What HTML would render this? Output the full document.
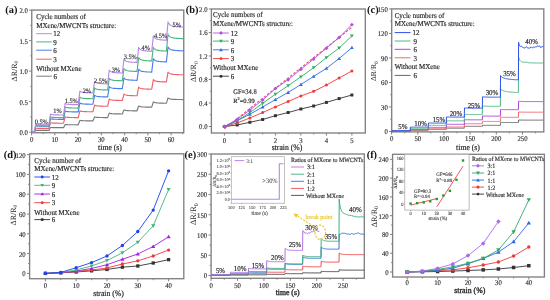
<!DOCTYPE html><html><head><meta charset="utf-8"><style>html,body{margin:0;padding:0;background:#fff;overflow:hidden;}svg{display:block;filter:blur(0.3px);}text{font-family:"Liberation Serif",serif;text-rendering:geometricPrecision;}</style></head><body><svg width="550" height="300" viewBox="0 0 550 300" font-family="Liberation Serif">
<rect width="550" height="300" fill="#fff"/>
<rect x="31.75" y="10.1" width="152" height="122.65" fill="none" stroke="#808080" stroke-width="1.35"/>
<line x1="31.6" y1="132.75" x2="31.6" y2="135.35" stroke="#808080" stroke-width="1" />
<line x1="54.85" y1="132.75" x2="54.85" y2="135.35" stroke="#808080" stroke-width="1" />
<line x1="78.1" y1="132.75" x2="78.1" y2="135.35" stroke="#808080" stroke-width="1" />
<line x1="101.35" y1="132.75" x2="101.35" y2="135.35" stroke="#808080" stroke-width="1" />
<line x1="124.6" y1="132.75" x2="124.6" y2="135.35" stroke="#808080" stroke-width="1" />
<line x1="147.85" y1="132.75" x2="147.85" y2="135.35" stroke="#808080" stroke-width="1" />
<line x1="171.1" y1="132.75" x2="171.1" y2="135.35" stroke="#808080" stroke-width="1" />
<line x1="43.23" y1="132.75" x2="43.23" y2="134.25" stroke="#808080" stroke-width="0.9" />
<line x1="66.47" y1="132.75" x2="66.47" y2="134.25" stroke="#808080" stroke-width="0.9" />
<line x1="89.73" y1="132.75" x2="89.73" y2="134.25" stroke="#808080" stroke-width="0.9" />
<line x1="112.97" y1="132.75" x2="112.97" y2="134.25" stroke="#808080" stroke-width="0.9" />
<line x1="136.23" y1="132.75" x2="136.23" y2="134.25" stroke="#808080" stroke-width="0.9" />
<line x1="159.48" y1="132.75" x2="159.48" y2="134.25" stroke="#808080" stroke-width="0.9" />
<line x1="182.72" y1="132.75" x2="182.72" y2="134.25" stroke="#808080" stroke-width="0.9" />
<line x1="31.75" y1="132.2" x2="29.15" y2="132.2" stroke="#808080" stroke-width="1" />
<line x1="31.75" y1="101.67" x2="29.15" y2="101.67" stroke="#808080" stroke-width="1" />
<line x1="31.75" y1="71.15" x2="29.15" y2="71.15" stroke="#808080" stroke-width="1" />
<line x1="31.75" y1="40.62" x2="29.15" y2="40.62" stroke="#808080" stroke-width="1" />
<line x1="31.75" y1="10.1" x2="29.15" y2="10.1" stroke="#808080" stroke-width="1" />
<line x1="31.75" y1="116.94" x2="30.25" y2="116.94" stroke="#808080" stroke-width="0.9" />
<line x1="31.75" y1="86.41" x2="30.25" y2="86.41" stroke="#808080" stroke-width="0.9" />
<line x1="31.75" y1="55.89" x2="30.25" y2="55.89" stroke="#808080" stroke-width="0.9" />
<line x1="31.75" y1="25.36" x2="30.25" y2="25.36" stroke="#808080" stroke-width="0.9" />
<text transform="translate(31.6,142.25) scale(0.93,1)" font-size="7.24" text-anchor="middle" fill="#2a2a2a" stroke="#2a2a2a" stroke-width="0.14" >0</text>
<text transform="translate(54.85,142.25) scale(0.93,1)" font-size="7.24" text-anchor="middle" fill="#2a2a2a" stroke="#2a2a2a" stroke-width="0.14" >10</text>
<text transform="translate(78.1,142.25) scale(0.93,1)" font-size="7.24" text-anchor="middle" fill="#2a2a2a" stroke="#2a2a2a" stroke-width="0.14" >20</text>
<text transform="translate(101.35,142.25) scale(0.93,1)" font-size="7.24" text-anchor="middle" fill="#2a2a2a" stroke="#2a2a2a" stroke-width="0.14" >30</text>
<text transform="translate(124.6,142.25) scale(0.93,1)" font-size="7.24" text-anchor="middle" fill="#2a2a2a" stroke="#2a2a2a" stroke-width="0.14" >40</text>
<text transform="translate(147.85,142.25) scale(0.93,1)" font-size="7.24" text-anchor="middle" fill="#2a2a2a" stroke="#2a2a2a" stroke-width="0.14" >50</text>
<text transform="translate(171.1,142.25) scale(0.93,1)" font-size="7.24" text-anchor="middle" fill="#2a2a2a" stroke="#2a2a2a" stroke-width="0.14" >60</text>
<text transform="translate(27.85,135.1) scale(0.93,1)" font-size="7.24" text-anchor="end" fill="#2a2a2a" stroke="#2a2a2a" stroke-width="0.14" >0.0</text>
<text transform="translate(27.85,104.57) scale(0.93,1)" font-size="7.24" text-anchor="end" fill="#2a2a2a" stroke="#2a2a2a" stroke-width="0.14" >0.5</text>
<text transform="translate(27.85,74.05) scale(0.93,1)" font-size="7.24" text-anchor="end" fill="#2a2a2a" stroke="#2a2a2a" stroke-width="0.14" >1.0</text>
<text transform="translate(27.85,43.52) scale(0.93,1)" font-size="7.24" text-anchor="end" fill="#2a2a2a" stroke="#2a2a2a" stroke-width="0.14" >1.5</text>
<text transform="translate(27.85,13) scale(0.93,1)" font-size="7.24" text-anchor="end" fill="#2a2a2a" stroke="#2a2a2a" stroke-width="0.14" >2.0</text>
<text transform="translate(16.7,71) rotate(-90)" font-size="8.0" text-anchor="middle" fill="#2a2a2a">ΔR/R<tspan font-size="5.6" dy="1.76">0</tspan></text>
<text transform="translate(110,149.8) scale(0.93,1)" font-size="8.32" text-anchor="middle" fill="#2a2a2a" stroke="#2a2a2a" stroke-width="0.22" >time (s)</text>
<text x="5.3" y="13.1" font-size="10.4" text-anchor="start" fill="#111" font-weight="bold" >(a)</text>
<polyline points="31.6,131.96 32.76,131.96 33.93,131.96 34.16,131.96 35.09,131.05 35.79,130.37 35.83,130.37 35.88,130.37 35.97,130.37 36.11,130.38 36.25,130.38 36.48,130.39 36.72,130.39 37.09,130.4 37.41,130.4 37.65,130.41 38.39,130.42 38.58,130.42 39.51,130.42 39.74,130.42 40.9,130.43 42.06,130.43 43.23,130.44 44.39,130.44 45.55,130.44 46.71,130.44 47.88,130.44 48.85,130.44 49.04,130.1 50.2,127.96 50.48,127.45 50.53,127.45 50.57,127.45 50.67,127.46 50.8,127.48 50.94,127.49 51.18,127.5 51.36,127.52 51.41,127.52 51.78,127.54 52.34,127.56 52.53,127.57 53.08,127.58 53.69,127.6 54.2,127.6 54.85,127.61 55.59,127.62 56.01,127.62 57.18,127.63 58.34,127.64 59.5,127.64 60.66,127.65 61.83,127.65 62.99,127.65 63.54,127.65 64.15,126.47 65.17,124.46 65.22,124.47 65.27,124.48 65.31,124.48 65.36,124.49 65.5,124.51 65.64,124.53 65.87,124.56 66.1,124.58 66.47,124.62 67.03,124.65 67.64,124.68 67.78,124.69 68.8,124.72 68.89,124.72 69.96,124.75 70.29,124.75 71.12,124.76 72.29,124.77 73.45,124.78 74.61,124.79 75.78,124.8 76.94,124.8 78.1,124.81 78.24,124.81 79.26,122 79.87,120.33 79.91,120.35 79.96,120.36 80.05,120.38 80.19,120.41 80.33,120.44 80.43,120.46 80.56,120.49 80.8,120.52 81.17,120.57 81.59,120.62 81.73,120.63 82.47,120.69 82.75,120.7 83.59,120.74 83.91,120.75 84.98,120.78 85.08,120.78 86.24,120.81 87.4,120.82 88.56,120.84 89.73,120.85 90.89,120.86 92.05,120.86 92.93,120.87 93.21,120.19 94.38,117.36 94.56,116.91 94.61,116.92 94.65,116.94 94.75,116.97 94.89,117.01 95.03,117.04 95.26,117.1 95.49,117.15 95.54,117.16 95.86,117.21 96.42,117.29 96.7,117.32 97.16,117.36 97.86,117.41 98.28,117.43 99.03,117.46 99.68,117.48 100.19,117.5 101.35,117.53 102.51,117.55 103.68,117.56 104.84,117.57 106,117.58 107.16,117.59 107.63,117.6 108.33,115.67 109.25,113.1 109.3,113.12 109.35,113.14 109.44,113.17 109.49,113.19 109.58,113.22 109.72,113.27 109.95,113.34 110.19,113.4 110.56,113.48 110.65,113.5 111.12,113.58 111.81,113.66 111.86,113.67 112.97,113.75 114.14,113.81 114.37,113.82 115.3,113.85 116.46,113.88 117.62,113.9 118.79,113.92 119.95,113.94 121.11,113.95 122.28,113.96 122.32,113.96 123.44,111.15 123.95,109.86 124,109.88 124.04,109.9 124.13,109.95 124.27,110.01 124.41,110.06 124.6,110.13 124.65,110.14 124.88,110.22 125.25,110.31 125.76,110.41 125.81,110.42 126.55,110.53 126.93,110.57 127.67,110.63 128.09,110.66 129.06,110.71 129.25,110.72 130.41,110.76 131.58,110.79 132.74,110.81 133.9,110.83 135.06,110.85 136.23,110.86 137.01,110.87 137.39,109.76 138.55,106.26 138.64,105.99 138.69,106.01 138.74,106.04 138.83,106.09 138.97,106.16 139.11,106.22 139.34,106.32 139.57,106.4 139.71,106.45 139.95,106.52 140.5,106.65 140.88,106.71 141.25,106.77 142.04,106.86 142.36,106.89 143.2,106.95 143.76,106.98 144.36,107.01 145.53,107.06 146.69,107.09 147.85,107.12 149.01,107.14 150.18,107.15 151.34,107.17 151.71,107.17 152.5,104.6 153.34,101.86 153.38,101.89 153.43,101.92 153.52,101.98 153.66,102.06 153.8,102.14 154.03,102.25 154.27,102.34 154.64,102.47 154.83,102.53 155.2,102.63 155.94,102.77 155.99,102.78 157.06,102.91 157.15,102.92 158.31,103.01 158.45,103.01 159.48,103.07 160.64,103.11 161.8,103.15 162.96,103.18 164.12,103.2 165.29,103.22 166.4,103.23 166.45,103.09 167.61,99.34 168.03,97.99 168.08,98.02 168.12,98.06 168.22,98.12 168.36,98.21 168.5,98.3 168.73,98.42 168.78,98.45 168.96,98.53 169.33,98.68 169.89,98.85 169.94,98.86 170.63,99.01 171.1,99.09 171.75,99.17 172.26,99.22 173.15,99.29 173.43,99.31 174.59,99.37 175.75,99.42 176.91,99.45 178.08,99.48 179.24,99.51 180.4,99.53 181.56,99.54 182.72,99.56 183.89,99.57" fill="none" stroke="#7a7a7a" stroke-width="1.15" stroke-linejoin="round" />
<polyline points="31.6,131.96 32.76,131.96 33.93,131.96 34.16,131.96 35.09,129.81 35.79,128.21 35.83,128.21 35.88,128.22 35.97,128.22 36.11,128.23 36.25,128.24 36.48,128.26 36.72,128.27 37.09,128.29 37.41,128.3 37.65,128.3 38.39,128.32 38.58,128.33 39.51,128.34 39.74,128.34 40.9,128.35 42.06,128.36 43.23,128.37 44.39,128.37 45.55,128.37 46.71,128.38 47.88,128.38 48.85,128.38 49.04,127.74 50.2,123.77 50.48,122.81 50.53,122.82 50.57,122.83 50.67,122.85 50.8,122.87 50.94,122.9 51.18,122.93 51.36,122.95 51.41,122.96 51.78,123 52.34,123.04 52.53,123.06 53.08,123.09 53.69,123.11 54.2,123.13 54.85,123.15 55.59,123.16 56.01,123.17 57.18,123.19 58.34,123.2 59.5,123.21 60.66,123.22 61.83,123.22 62.99,123.23 63.54,123.23 64.15,120.88 65.17,116.91 65.22,116.92 65.27,116.94 65.31,116.95 65.36,116.97 65.5,117.01 65.64,117.04 65.87,117.1 66.1,117.15 66.47,117.21 67.03,117.29 67.64,117.35 67.78,117.36 68.8,117.43 68.89,117.43 69.96,117.47 70.29,117.48 71.12,117.51 72.29,117.53 73.45,117.55 74.61,117.56 75.78,117.58 76.94,117.59 78.1,117.59 78.24,117.6 79.26,113.33 79.87,110.81 79.91,110.83 79.96,110.85 80.05,110.9 80.19,110.95 80.33,111.01 80.43,111.04 80.56,111.08 80.8,111.15 81.17,111.24 81.59,111.33 81.73,111.35 82.47,111.45 82.75,111.48 83.59,111.55 83.91,111.57 84.98,111.62 85.08,111.63 86.24,111.67 87.4,111.7 88.56,111.72 89.73,111.74 90.89,111.76 92.05,111.77 92.93,111.78 93.21,110.62 94.38,105.8 94.56,105.03 94.61,105.06 94.65,105.09 94.75,105.14 94.89,105.21 95.03,105.28 95.26,105.38 95.49,105.47 95.54,105.48 95.86,105.58 96.42,105.72 96.7,105.77 97.16,105.85 97.86,105.93 98.28,105.97 99.03,106.03 99.68,106.07 100.19,106.09 101.35,106.14 102.51,106.17 103.68,106.2 104.84,106.23 106,106.24 107.16,106.26 107.63,106.26 108.33,103.16 109.25,99 109.3,99.04 109.35,99.07 109.44,99.13 109.49,99.16 109.58,99.22 109.72,99.3 109.95,99.43 110.19,99.53 110.56,99.68 110.65,99.71 111.12,99.84 111.81,99.99 111.86,100 112.97,100.15 114.14,100.25 114.37,100.27 115.3,100.32 116.46,100.37 117.62,100.41 118.79,100.44 119.95,100.47 121.11,100.49 122.28,100.51 122.32,100.51 123.44,96.08 123.95,94.05 124,94.09 124.04,94.13 124.13,94.2 124.27,94.3 124.41,94.4 124.6,94.51 124.65,94.54 124.88,94.66 125.25,94.82 125.76,95 125.81,95.01 126.55,95.19 126.93,95.26 127.67,95.37 128.09,95.42 129.06,95.5 129.25,95.52 130.41,95.59 131.58,95.64 132.74,95.68 133.9,95.72 135.06,95.75 136.23,95.77 137.01,95.78 137.39,93.82 138.55,87.68 138.64,87.19 138.69,87.24 138.74,87.28 138.83,87.37 138.97,87.49 139.11,87.6 139.34,87.77 139.57,87.91 139.71,87.99 139.95,88.11 140.5,88.33 140.88,88.45 141.25,88.54 142.04,88.7 142.36,88.75 143.2,88.85 143.76,88.91 144.36,88.96 145.53,89.03 146.69,89.09 147.85,89.14 149.01,89.18 150.18,89.21 151.34,89.23 151.71,89.24 152.5,84.55 153.34,79.57 153.38,79.63 153.43,79.68 153.52,79.78 153.66,79.92 153.8,80.05 154.03,80.25 154.27,80.42 154.64,80.64 154.83,80.74 155.2,80.91 155.94,81.15 155.99,81.17 157.06,81.4 157.15,81.41 158.31,81.57 158.45,81.58 159.48,81.67 160.64,81.75 161.8,81.82 162.96,81.87 164.12,81.91 165.29,81.94 166.4,81.97 166.45,81.68 167.61,74.58 168.03,72.02 168.08,72.08 168.12,72.14 168.22,72.26 168.36,72.42 168.5,72.57 168.73,72.79 168.78,72.83 168.96,72.98 169.33,73.24 169.89,73.54 169.94,73.56 170.63,73.83 171.1,73.96 171.75,74.1 172.26,74.19 173.15,74.32 173.43,74.35 174.59,74.46 175.75,74.54 176.91,74.61 178.08,74.66 179.24,74.7 180.4,74.74 181.56,74.77 182.72,74.79 183.89,74.81" fill="none" stroke="#f0606c" stroke-width="1.15" stroke-linejoin="round" />
<polyline points="31.6,131.96 32.76,131.96 33.93,131.96 34.16,131.96 35.09,128.47 35.79,125.86 35.83,125.86 35.88,125.87 35.97,125.88 36.11,125.9 36.25,125.91 36.48,125.94 36.72,125.96 37.09,125.98 37.41,126 37.65,126.01 38.39,126.04 38.58,126.05 39.51,126.07 39.74,126.08 40.9,126.09 42.06,126.11 43.23,126.12 44.39,126.12 45.55,126.13 46.71,126.13 47.88,126.14 48.85,126.14 49.04,125.29 50.2,120.01 50.48,118.75 50.53,118.76 50.57,118.77 50.67,118.8 50.8,118.84 50.94,118.87 51.18,118.92 51.36,118.95 51.41,118.96 51.78,119.02 52.34,119.08 52.53,119.1 53.08,119.15 53.69,119.18 54.2,119.21 54.85,119.23 55.59,119.26 56.01,119.27 57.18,119.29 58.34,119.31 59.5,119.32 60.66,119.33 61.83,119.34 62.99,119.35 63.54,119.35 64.15,116.23 65.17,110.94 65.22,110.96 65.27,110.98 65.31,111 65.36,111.02 65.5,111.08 65.64,111.13 65.87,111.21 66.1,111.28 66.47,111.37 67.03,111.47 67.64,111.56 67.78,111.57 68.8,111.66 68.89,111.67 69.96,111.73 70.29,111.75 71.12,111.78 72.29,111.81 73.45,111.84 74.61,111.86 75.78,111.87 76.94,111.89 78.1,111.9 78.24,111.9 79.26,106.27 79.87,102.94 79.91,102.97 79.96,103 80.05,103.05 80.19,103.13 80.33,103.2 80.43,103.25 80.56,103.31 80.8,103.41 81.17,103.53 81.59,103.64 81.73,103.68 82.47,103.81 82.75,103.85 83.59,103.95 83.91,103.98 84.98,104.05 85.08,104.06 86.24,104.11 87.4,104.16 88.56,104.19 89.73,104.21 90.89,104.24 92.05,104.25 92.93,104.26 93.21,102.72 94.38,96.29 94.56,95.25 94.61,95.29 94.65,95.33 94.75,95.4 94.89,95.5 95.03,95.59 95.26,95.73 95.49,95.85 95.54,95.87 95.86,96.01 96.42,96.19 96.7,96.26 97.16,96.36 97.86,96.48 98.28,96.53 99.03,96.61 99.68,96.66 100.19,96.7 101.35,96.76 102.51,96.81 103.68,96.85 104.84,96.88 106,96.9 107.16,96.93 107.63,96.93 108.33,92.52 109.25,86.62 109.3,86.67 109.35,86.71 109.44,86.8 109.49,86.84 109.58,86.92 109.72,87.04 109.95,87.21 110.19,87.35 110.56,87.55 110.65,87.59 111.12,87.77 111.81,87.98 111.86,87.99 112.97,88.2 114.14,88.34 114.37,88.36 115.3,88.43 116.46,88.5 117.62,88.56 118.79,88.6 119.95,88.64 121.11,88.67 122.28,88.69 122.32,88.69 123.44,81.27 123.95,77.86 124,77.91 124.04,77.97 124.13,78.07 124.27,78.22 124.41,78.36 124.6,78.52 124.65,78.56 124.88,78.73 125.25,78.96 125.76,79.22 125.81,79.24 126.55,79.49 126.93,79.59 127.67,79.74 128.09,79.81 129.06,79.93 129.25,79.95 130.41,80.05 131.58,80.13 132.74,80.19 133.9,80.24 135.06,80.28 136.23,80.31 137.01,80.33 137.39,77.8 138.55,69.86 138.64,69.22 138.69,69.29 138.74,69.35 138.83,69.47 138.97,69.64 139.11,69.8 139.34,70.03 139.57,70.24 139.71,70.34 139.95,70.51 140.5,70.82 140.88,70.98 141.25,71.12 142.04,71.34 142.36,71.41 143.2,71.55 143.76,71.63 144.36,71.7 145.53,71.8 146.69,71.89 147.85,71.95 149.01,72 150.18,72.04 151.34,72.08 151.71,72.09 152.5,65.53 153.34,58.56 153.38,58.63 153.43,58.71 153.52,58.85 153.66,59.05 153.8,59.23 154.03,59.5 154.27,59.74 154.64,60.06 154.83,60.19 155.2,60.42 155.94,60.77 155.99,60.79 157.06,61.11 157.15,61.13 158.31,61.35 158.45,61.37 159.48,61.5 160.64,61.61 161.8,61.7 162.96,61.77 164.12,61.83 165.29,61.87 166.4,61.91 166.45,61.48 167.61,50.75 168.03,46.87 168.08,46.96 168.12,47.05 168.22,47.21 168.36,47.45 168.5,47.66 168.73,47.97 168.78,48.03 168.96,48.25 169.33,48.61 169.89,49.04 169.94,49.07 170.63,49.44 171.1,49.63 171.75,49.83 172.26,49.96 173.15,50.14 173.43,50.18 174.59,50.34 175.75,50.46 176.91,50.55 178.08,50.62 179.24,50.68 180.4,50.73 181.56,50.78 182.72,50.81 183.89,50.84" fill="none" stroke="#4a7eec" stroke-width="1.15" stroke-linejoin="round" />
<polyline points="31.6,131.96 32.76,131.96 33.93,131.96 34.16,131.96 35.09,128.36 35.79,125.67 35.83,125.67 35.88,125.68 35.97,125.69 36.11,125.71 36.25,125.73 36.48,125.75 36.72,125.77 37.09,125.8 37.41,125.82 37.65,125.83 38.39,125.86 38.58,125.87 39.51,125.89 39.74,125.89 40.9,125.91 42.06,125.92 43.23,125.93 44.39,125.94 45.55,125.95 46.71,125.95 47.88,125.95 48.85,125.96 49.04,124.92 50.2,118.46 50.48,116.91 50.53,116.92 50.57,116.94 50.67,116.97 50.8,117.01 50.94,117.04 51.18,117.1 51.36,117.14 51.41,117.15 51.78,117.21 52.34,117.29 52.53,117.31 53.08,117.36 53.69,117.4 54.2,117.43 54.85,117.46 55.59,117.48 56.01,117.5 57.18,117.52 58.34,117.54 59.5,117.56 60.66,117.57 61.83,117.58 62.99,117.59 63.54,117.6 64.15,113.64 65.17,106.94 65.22,106.96 65.27,106.99 65.31,107.01 65.36,107.04 65.5,107.11 65.64,107.17 65.87,107.26 66.1,107.34 66.47,107.45 67.03,107.58 67.64,107.67 67.78,107.69 68.8,107.8 68.89,107.81 69.96,107.88 70.29,107.9 71.12,107.94 72.29,107.98 73.45,108.01 74.61,108.03 75.78,108.05 76.94,108.07 78.1,108.08 78.24,108.08 79.26,101.22 79.87,97.16 79.91,97.2 79.96,97.23 80.05,97.3 80.19,97.39 80.33,97.48 80.43,97.53 80.56,97.61 80.8,97.72 81.17,97.87 81.59,98.01 81.73,98.05 82.47,98.21 82.75,98.26 83.59,98.37 83.91,98.41 84.98,98.5 85.08,98.5 86.24,98.57 87.4,98.62 88.56,98.66 89.73,98.69 90.89,98.72 92.05,98.74 92.93,98.75 93.21,96.9 94.38,89.19 94.56,87.95 94.61,88 94.65,88.04 94.75,88.13 94.89,88.25 95.03,88.36 95.26,88.52 95.49,88.66 95.54,88.69 95.86,88.85 96.42,89.07 96.7,89.16 97.16,89.28 97.86,89.42 98.28,89.49 99.03,89.58 99.68,89.64 100.19,89.68 101.35,89.76 102.51,89.82 103.68,89.86 104.84,89.9 106,89.93 107.16,89.96 107.63,89.96 108.33,84.97 109.25,78.3 109.3,78.36 109.35,78.41 109.44,78.52 109.49,78.57 109.58,78.66 109.72,78.8 109.95,79 110.19,79.17 110.56,79.4 110.65,79.45 111.12,79.67 111.81,79.91 111.86,79.92 112.97,80.17 114.14,80.33 114.37,80.36 115.3,80.45 116.46,80.53 117.62,80.6 118.79,80.65 119.95,80.69 121.11,80.72 122.28,80.75 122.32,80.75 123.44,72.38 123.95,68.52 124,68.59 124.04,68.66 124.13,68.78 124.27,68.95 124.41,69.11 124.6,69.3 124.65,69.34 124.88,69.55 125.25,69.82 125.76,70.12 125.81,70.14 126.55,70.44 126.93,70.55 127.67,70.73 128.09,70.81 129.06,70.96 129.25,70.98 130.41,71.1 131.58,71.19 132.74,71.26 133.9,71.32 135.06,71.36 136.23,71.4 137.01,71.42 137.39,68.26 138.55,58.34 138.64,57.54 138.69,57.62 138.74,57.69 138.83,57.84 138.97,58.04 139.11,58.23 139.34,58.5 139.57,58.74 139.71,58.87 139.95,59.06 140.5,59.43 140.88,59.63 141.25,59.79 142.04,60.05 142.36,60.13 143.2,60.3 143.76,60.39 144.36,60.48 145.53,60.6 146.69,60.7 147.85,60.78 149.01,60.84 150.18,60.89 151.34,60.93 151.71,60.94 152.5,54.27 153.34,47.19 153.38,47.28 153.43,47.37 153.52,47.53 153.66,47.76 153.8,47.97 154.03,48.29 154.27,48.56 154.64,48.92 154.83,49.08 155.2,49.35 155.94,49.75 155.99,49.77 157.06,50.14 157.15,50.17 158.31,50.42 158.45,50.44 159.48,50.59 160.64,50.72 161.8,50.82 162.96,50.9 164.12,50.97 165.29,51.02 166.4,51.06 166.45,50.58 167.61,38.48 168.03,34.11 168.08,34.21 168.12,34.31 168.22,34.5 168.36,34.77 168.5,35.01 168.73,35.38 168.78,35.44 168.96,35.69 169.33,36.11 169.89,36.6 169.94,36.64 170.63,37.07 171.1,37.28 171.75,37.52 172.26,37.66 173.15,37.86 173.43,37.92 174.59,38.1 175.75,38.23 176.91,38.34 178.08,38.42 179.24,38.49 180.4,38.55 181.56,38.6 182.72,38.64 183.89,38.67" fill="none" stroke="#4cb47e" stroke-width="1.15" stroke-linejoin="round" />
<polyline points="31.6,131.96 32.76,131.96 33.93,131.96 34.16,131.96 35.09,127.67 35.79,124.46 35.83,124.47 35.88,124.48 35.97,124.49 36.11,124.51 36.25,124.53 36.48,124.56 36.72,124.58 37.09,124.62 37.41,124.64 37.65,124.65 38.39,124.69 38.58,124.7 39.51,124.72 39.74,124.73 40.9,124.75 42.06,124.77 43.23,124.78 44.39,124.79 45.55,124.79 46.71,124.8 47.88,124.8 48.85,124.81 49.04,123.59 50.2,116 50.48,114.18 50.53,114.19 50.57,114.21 50.67,114.25 50.8,114.3 50.94,114.34 51.18,114.41 51.36,114.45 51.41,114.46 51.78,114.54 52.34,114.63 52.53,114.65 53.08,114.71 53.69,114.76 54.2,114.8 54.85,114.83 55.59,114.86 56.01,114.87 57.18,114.9 58.34,114.93 59.5,114.95 60.66,114.96 61.83,114.98 62.99,114.99 63.54,114.99 64.15,110.68 65.17,103.38 65.22,103.41 65.27,103.44 65.31,103.47 65.36,103.5 65.5,103.57 65.64,103.65 65.87,103.75 66.1,103.84 66.47,103.97 67.03,104.11 67.64,104.22 67.78,104.25 68.8,104.37 68.89,104.38 69.96,104.46 70.29,104.48 71.12,104.52 72.29,104.57 73.45,104.6 74.61,104.63 75.78,104.65 76.94,104.67 78.1,104.69 78.24,104.69 79.26,96.09 79.87,91 79.91,91.04 79.96,91.09 80.05,91.17 80.19,91.28 80.33,91.38 80.43,91.44 80.56,91.53 80.8,91.66 81.17,91.84 81.59,92 81.73,92.04 82.47,92.24 82.75,92.29 83.59,92.43 83.91,92.47 84.98,92.57 85.08,92.58 86.24,92.66 87.4,92.72 88.56,92.76 89.73,92.8 90.89,92.83 92.05,92.86 92.93,92.87 93.21,90.93 94.38,82.84 94.56,81.54 94.61,81.59 94.65,81.64 94.75,81.74 94.89,81.88 95.03,82 95.26,82.19 95.49,82.35 95.54,82.38 95.86,82.57 96.42,82.82 96.7,82.92 97.16,83.06 97.86,83.22 98.28,83.3 99.03,83.4 99.68,83.47 100.19,83.52 101.35,83.61 102.51,83.68 103.68,83.73 104.84,83.77 106,83.81 107.16,83.83 107.63,83.84 108.33,77.99 109.25,70.18 109.3,70.24 109.35,70.3 109.44,70.42 109.49,70.48 109.58,70.59 109.72,70.74 109.95,70.97 110.19,71.17 110.56,71.44 110.65,71.5 111.12,71.75 111.81,72.03 111.86,72.04 112.97,72.33 114.14,72.52 114.37,72.54 115.3,72.65 116.46,72.74 117.62,72.82 118.79,72.88 119.95,72.92 121.11,72.96 122.28,73 122.32,73 123.44,63.45 123.95,59.06 124,59.14 124.04,59.21 124.13,59.36 124.27,59.55 124.41,59.74 124.6,59.95 124.65,60.01 124.88,60.24 125.25,60.56 125.76,60.89 125.81,60.92 126.55,61.27 126.93,61.4 127.67,61.6 128.09,61.69 129.06,61.86 129.25,61.89 130.41,62.02 131.58,62.13 132.74,62.21 133.9,62.27 135.06,62.33 136.23,62.37 137.01,62.39 137.39,58.97 138.55,48.24 138.64,47.38 138.69,47.47 138.74,47.56 138.83,47.72 138.97,47.95 139.11,48.16 139.34,48.47 139.57,48.75 139.71,48.89 139.95,49.11 140.5,49.53 140.88,49.75 141.25,49.93 142.04,50.23 142.36,50.33 143.2,50.52 143.76,50.62 144.36,50.72 145.53,50.86 146.69,50.97 147.85,51.06 149.01,51.13 150.18,51.18 151.34,51.23 151.71,51.24 152.5,43.77 153.34,35.83 153.38,35.93 153.43,36.02 153.52,36.21 153.66,36.47 153.8,36.71 154.03,37.07 154.27,37.38 154.64,37.79 154.83,37.97 155.2,38.27 155.94,38.73 155.99,38.75 157.06,39.17 157.15,39.2 158.31,39.48 158.45,39.51 159.48,39.68 160.64,39.83 161.8,39.94 162.96,40.03 164.12,40.11 165.29,40.17 166.4,40.22 166.45,39.7 167.61,26.64 168.03,21.92 168.08,22.04 168.12,22.15 168.22,22.36 168.36,22.66 168.5,22.93 168.73,23.34 168.78,23.42 168.96,23.7 169.33,24.17 169.89,24.72 169.94,24.76 170.63,25.24 171.1,25.48 171.75,25.75 172.26,25.92 173.15,26.14 173.43,26.2 174.59,26.4 175.75,26.55 176.91,26.67 178.08,26.77 179.24,26.85 180.4,26.91 181.56,26.97 182.72,27.01 183.89,27.05" fill="none" stroke="#b888e8" stroke-width="1.15" stroke-linejoin="round" />
<text transform="translate(41.3,123.7) scale(0.93,1)" font-size="6.8" text-anchor="middle" fill="#2a2a2a" stroke="#2a2a2a" stroke-width="0.15" >0.5%</text>
<text transform="translate(57.5,112.7) scale(0.93,1)" font-size="6.8" text-anchor="middle" fill="#2a2a2a" stroke="#2a2a2a" stroke-width="0.15" >1%</text>
<text transform="translate(71.3,103.4) scale(0.93,1)" font-size="6.8" text-anchor="middle" fill="#2a2a2a" stroke="#2a2a2a" stroke-width="0.15" >1.5%</text>
<text transform="translate(86.9,92.9) scale(0.93,1)" font-size="6.8" text-anchor="middle" fill="#2a2a2a" stroke="#2a2a2a" stroke-width="0.15" >2%</text>
<text transform="translate(100.7,83.1) scale(0.93,1)" font-size="6.8" text-anchor="middle" fill="#2a2a2a" stroke="#2a2a2a" stroke-width="0.15" >2.5%</text>
<text transform="translate(115.9,72.3) scale(0.93,1)" font-size="6.8" text-anchor="middle" fill="#2a2a2a" stroke="#2a2a2a" stroke-width="0.15" >3%</text>
<text transform="translate(130.3,58.5) scale(0.93,1)" font-size="6.8" text-anchor="middle" fill="#2a2a2a" stroke="#2a2a2a" stroke-width="0.15" >3.5%</text>
<text transform="translate(145.8,50) scale(0.93,1)" font-size="6.8" text-anchor="middle" fill="#2a2a2a" stroke="#2a2a2a" stroke-width="0.15" >4%</text>
<text transform="translate(160.5,37.6) scale(0.93,1)" font-size="6.8" text-anchor="middle" fill="#2a2a2a" stroke="#2a2a2a" stroke-width="0.15" >4.5%</text>
<text transform="translate(176.8,26.5) scale(0.93,1)" font-size="6.8" text-anchor="middle" fill="#2a2a2a" stroke="#2a2a2a" stroke-width="0.15" >5%</text>
<text transform="translate(36.3,19.1) scale(0.93,1)" font-size="7.51" text-anchor="start" fill="#2a2a2a" stroke="#2a2a2a" stroke-width="0.18" >Cycle numbers of</text>
<text transform="translate(36.3,27.6) scale(0.93,1)" font-size="7.51" text-anchor="start" fill="#2a2a2a" stroke="#2a2a2a" stroke-width="0.18" >MXene/MWCNTs structure:</text>
<line x1="36.2" y1="33.7" x2="51.8" y2="33.7" stroke="#b888e8" stroke-width="1.0" />
<text transform="translate(53.3,36.4) scale(0.93,1)" font-size="7.51" text-anchor="start" fill="#2a2a2a" stroke="#2a2a2a" stroke-width="0.18" >12</text>
<line x1="36.2" y1="41.9" x2="51.8" y2="41.9" stroke="#4cb47e" stroke-width="1.0" />
<text transform="translate(53.3,44.6) scale(0.93,1)" font-size="7.51" text-anchor="start" fill="#2a2a2a" stroke="#2a2a2a" stroke-width="0.18" >9</text>
<line x1="36.2" y1="50.2" x2="51.8" y2="50.2" stroke="#4a7eec" stroke-width="1.0" />
<text transform="translate(53.3,52.9) scale(0.93,1)" font-size="7.51" text-anchor="start" fill="#2a2a2a" stroke="#2a2a2a" stroke-width="0.18" >6</text>
<line x1="36.2" y1="59.2" x2="51.8" y2="59.2" stroke="#f0606c" stroke-width="1.0" />
<text transform="translate(53.3,61.9) scale(0.93,1)" font-size="7.51" text-anchor="start" fill="#2a2a2a" stroke="#2a2a2a" stroke-width="0.18" >3</text>
<text transform="translate(36.3,70.5) scale(0.93,1)" font-size="7.51" text-anchor="start" fill="#2a2a2a" stroke="#2a2a2a" stroke-width="0.18" >Without MXene</text>
<line x1="36.2" y1="76.2" x2="51.8" y2="76.2" stroke="#7a7a7a" stroke-width="1.0" />
<text transform="translate(53.4,78.9) scale(0.93,1)" font-size="7.51" text-anchor="start" fill="#2a2a2a" stroke="#2a2a2a" stroke-width="0.18" >6</text>
<rect x="211.4" y="9" width="153.9" height="124" fill="none" stroke="#808080" stroke-width="1.35"/>
<line x1="224.4" y1="133" x2="224.4" y2="135.6" stroke="#808080" stroke-width="1" />
<line x1="249.9" y1="133" x2="249.9" y2="135.6" stroke="#808080" stroke-width="1" />
<line x1="275.4" y1="133" x2="275.4" y2="135.6" stroke="#808080" stroke-width="1" />
<line x1="300.9" y1="133" x2="300.9" y2="135.6" stroke="#808080" stroke-width="1" />
<line x1="326.4" y1="133" x2="326.4" y2="135.6" stroke="#808080" stroke-width="1" />
<line x1="351.9" y1="133" x2="351.9" y2="135.6" stroke="#808080" stroke-width="1" />
<line x1="237.15" y1="133" x2="237.15" y2="134.5" stroke="#808080" stroke-width="0.9" />
<line x1="262.65" y1="133" x2="262.65" y2="134.5" stroke="#808080" stroke-width="0.9" />
<line x1="288.15" y1="133" x2="288.15" y2="134.5" stroke="#808080" stroke-width="0.9" />
<line x1="313.65" y1="133" x2="313.65" y2="134.5" stroke="#808080" stroke-width="0.9" />
<line x1="339.15" y1="133" x2="339.15" y2="134.5" stroke="#808080" stroke-width="0.9" />
<line x1="211.4" y1="126.5" x2="208.8" y2="126.5" stroke="#808080" stroke-width="1" />
<line x1="211.4" y1="103" x2="208.8" y2="103" stroke="#808080" stroke-width="1" />
<line x1="211.4" y1="79.5" x2="208.8" y2="79.5" stroke="#808080" stroke-width="1" />
<line x1="211.4" y1="56" x2="208.8" y2="56" stroke="#808080" stroke-width="1" />
<line x1="211.4" y1="32.5" x2="208.8" y2="32.5" stroke="#808080" stroke-width="1" />
<line x1="211.4" y1="9" x2="208.8" y2="9" stroke="#808080" stroke-width="1" />
<line x1="211.4" y1="114.75" x2="209.9" y2="114.75" stroke="#808080" stroke-width="0.9" />
<line x1="211.4" y1="91.25" x2="209.9" y2="91.25" stroke="#808080" stroke-width="0.9" />
<line x1="211.4" y1="67.75" x2="209.9" y2="67.75" stroke="#808080" stroke-width="0.9" />
<line x1="211.4" y1="44.25" x2="209.9" y2="44.25" stroke="#808080" stroke-width="0.9" />
<line x1="211.4" y1="20.75" x2="209.9" y2="20.75" stroke="#808080" stroke-width="0.9" />
<text transform="translate(224.4,142.5) scale(0.93,1)" font-size="7.24" text-anchor="middle" fill="#2a2a2a" stroke="#2a2a2a" stroke-width="0.14" >0</text>
<text transform="translate(249.9,142.5) scale(0.93,1)" font-size="7.24" text-anchor="middle" fill="#2a2a2a" stroke="#2a2a2a" stroke-width="0.14" >1</text>
<text transform="translate(275.4,142.5) scale(0.93,1)" font-size="7.24" text-anchor="middle" fill="#2a2a2a" stroke="#2a2a2a" stroke-width="0.14" >2</text>
<text transform="translate(300.9,142.5) scale(0.93,1)" font-size="7.24" text-anchor="middle" fill="#2a2a2a" stroke="#2a2a2a" stroke-width="0.14" >3</text>
<text transform="translate(326.4,142.5) scale(0.93,1)" font-size="7.24" text-anchor="middle" fill="#2a2a2a" stroke="#2a2a2a" stroke-width="0.14" >4</text>
<text transform="translate(351.9,142.5) scale(0.93,1)" font-size="7.24" text-anchor="middle" fill="#2a2a2a" stroke="#2a2a2a" stroke-width="0.14" >5</text>
<text transform="translate(207.5,129.4) scale(0.93,1)" font-size="7.24" text-anchor="end" fill="#2a2a2a" stroke="#2a2a2a" stroke-width="0.14" >0.0</text>
<text transform="translate(207.5,105.9) scale(0.93,1)" font-size="7.24" text-anchor="end" fill="#2a2a2a" stroke="#2a2a2a" stroke-width="0.14" >0.4</text>
<text transform="translate(207.5,82.4) scale(0.93,1)" font-size="7.24" text-anchor="end" fill="#2a2a2a" stroke="#2a2a2a" stroke-width="0.14" >0.8</text>
<text transform="translate(207.5,58.9) scale(0.93,1)" font-size="7.24" text-anchor="end" fill="#2a2a2a" stroke="#2a2a2a" stroke-width="0.14" >1.2</text>
<text transform="translate(207.5,35.4) scale(0.93,1)" font-size="7.24" text-anchor="end" fill="#2a2a2a" stroke="#2a2a2a" stroke-width="0.14" >1.6</text>
<text transform="translate(207.5,11.9) scale(0.93,1)" font-size="7.24" text-anchor="end" fill="#2a2a2a" stroke="#2a2a2a" stroke-width="0.14" >2.0</text>
<text transform="translate(196.2,71.7) rotate(-90)" font-size="8.0" text-anchor="middle" fill="#2a2a2a">ΔR/R<tspan font-size="5.6" dy="1.76">0</tspan></text>
<text transform="translate(287,150.3) scale(0.93,1)" font-size="8.32" text-anchor="middle" fill="#2a2a2a" stroke="#2a2a2a" stroke-width="0.22" >strain (%)</text>
<text x="185.8" y="13.1" font-size="10.4" text-anchor="start" fill="#111" font-weight="bold" >(b)</text>
<line x1="224.4" y1="128.85" x2="351.9" y2="27.21" stroke="#f0506a" stroke-width="1.1" stroke-dasharray="2.6,1.6"/>
<polyline points="224.4,126.5 237.15,124.97 249.9,122.27 262.65,119.51 275.4,115.69 288.15,112.52 300.9,108.99 313.65,106 326.4,102.41 339.15,98.59 351.9,95.01" fill="none" stroke="#333333" stroke-width="0.9" stroke-linejoin="round" />
<rect x="222.9" y="125" width="3" height="3" fill="#333333"/>
<rect x="235.65" y="123.47" width="3" height="3" fill="#333333"/>
<rect x="248.4" y="120.77" width="3" height="3" fill="#333333"/>
<rect x="261.15" y="118.01" width="3" height="3" fill="#333333"/>
<rect x="273.9" y="114.19" width="3" height="3" fill="#333333"/>
<rect x="286.65" y="111.02" width="3" height="3" fill="#333333"/>
<rect x="299.4" y="107.49" width="3" height="3" fill="#333333"/>
<rect x="312.15" y="104.5" width="3" height="3" fill="#333333"/>
<rect x="324.9" y="100.91" width="3" height="3" fill="#333333"/>
<rect x="337.65" y="97.09" width="3" height="3" fill="#333333"/>
<rect x="350.4" y="93.51" width="3" height="3" fill="#333333"/>
<polyline points="224.4,126.5 237.15,122.97 249.9,117.98 262.65,112.52 275.4,106.88 288.15,101.53 300.9,95.95 313.65,91.37 326.4,85.02 339.15,77.97 351.9,70.98" fill="none" stroke="#f03838" stroke-width="0.9" stroke-linejoin="round" />
<circle cx="224.4" cy="126.5" r="1.5" fill="#f03838"/>
<circle cx="237.15" cy="122.97" r="1.5" fill="#f03838"/>
<circle cx="249.9" cy="117.98" r="1.5" fill="#f03838"/>
<circle cx="262.65" cy="112.52" r="1.5" fill="#f03838"/>
<circle cx="275.4" cy="106.88" r="1.5" fill="#f03838"/>
<circle cx="288.15" cy="101.53" r="1.5" fill="#f03838"/>
<circle cx="300.9" cy="95.95" r="1.5" fill="#f03838"/>
<circle cx="313.65" cy="91.37" r="1.5" fill="#f03838"/>
<circle cx="326.4" cy="85.02" r="1.5" fill="#f03838"/>
<circle cx="339.15" cy="77.97" r="1.5" fill="#f03838"/>
<circle cx="351.9" cy="70.98" r="1.5" fill="#f03838"/>
<polyline points="224.4,126.5 237.15,120.8 249.9,114.22 262.65,107 275.4,99.59 288.15,92.48 300.9,84.49 313.65,76.39 326.4,68.4 339.15,58.53 351.9,47.72" fill="none" stroke="#2f6fe6" stroke-width="0.9" stroke-linejoin="round" />
<polygon points="224.4,124.62 226.28,127.91 222.53,127.91" fill="#2f6fe6"/>
<polygon points="237.15,118.93 239.03,122.21 235.28,122.21" fill="#2f6fe6"/>
<polygon points="249.9,112.35 251.78,115.63 248.03,115.63" fill="#2f6fe6"/>
<polygon points="262.65,105.12 264.52,108.4 260.77,108.4" fill="#2f6fe6"/>
<polygon points="275.4,97.72 277.27,101 273.52,101" fill="#2f6fe6"/>
<polygon points="288.15,90.61 290.02,93.89 286.27,93.89" fill="#2f6fe6"/>
<polygon points="300.9,82.62 302.77,85.9 299.02,85.9" fill="#2f6fe6"/>
<polygon points="313.65,74.51 315.52,77.79 311.77,77.79" fill="#2f6fe6"/>
<polygon points="326.4,66.52 328.27,69.8 324.52,69.8" fill="#2f6fe6"/>
<polygon points="339.15,56.65 341.02,59.93 337.27,59.93" fill="#2f6fe6"/>
<polygon points="351.9,45.84 353.77,49.12 350.02,49.12" fill="#2f6fe6"/>
<polyline points="224.4,126.5 237.15,120.62 249.9,112.52 262.65,103.29 275.4,94.25 288.15,85.73 300.9,76.8 313.65,67.75 326.4,57.59 339.15,48.01 351.9,35.91" fill="none" stroke="#2fae62" stroke-width="0.9" stroke-linejoin="round" />
<polygon points="224.4,128.38 226.28,125.09 222.53,125.09" fill="#2fae62"/>
<polygon points="237.15,122.5 239.03,119.22 235.28,119.22" fill="#2fae62"/>
<polygon points="249.9,114.39 251.78,111.11 248.03,111.11" fill="#2fae62"/>
<polygon points="262.65,105.17 264.52,101.89 260.77,101.89" fill="#2fae62"/>
<polygon points="275.4,96.12 277.27,92.84 273.52,92.84" fill="#2fae62"/>
<polygon points="288.15,87.6 290.02,84.32 286.27,84.32" fill="#2fae62"/>
<polygon points="300.9,78.67 302.77,75.39 299.02,75.39" fill="#2fae62"/>
<polygon points="313.65,69.62 315.52,66.34 311.77,66.34" fill="#2fae62"/>
<polygon points="326.4,59.46 328.27,56.18 324.52,56.18" fill="#2fae62"/>
<polygon points="339.15,49.88 341.02,46.6 337.27,46.6" fill="#2fae62"/>
<polygon points="351.9,37.78 353.77,34.5 350.02,34.5" fill="#2fae62"/>
<polyline points="224.4,126.5 237.15,119.51 249.9,109.99 262.65,100 275.4,88.55 288.15,79.79 300.9,69.28 313.65,59 326.4,48.19 339.15,37.49 351.9,24.63" fill="none" stroke="#b050e8" stroke-width="0.9" stroke-linejoin="round" />
<polygon points="224.4,124.55 226.35,126.5 224.4,128.45 222.45,126.5" fill="#b050e8"/>
<polygon points="237.15,117.56 239.1,119.51 237.15,121.46 235.2,119.51" fill="#b050e8"/>
<polygon points="249.9,108.04 251.85,109.99 249.9,111.94 247.95,109.99" fill="#b050e8"/>
<polygon points="262.65,98.05 264.6,100 262.65,101.95 260.7,100" fill="#b050e8"/>
<polygon points="275.4,86.6 277.35,88.55 275.4,90.5 273.45,88.55" fill="#b050e8"/>
<polygon points="288.15,77.84 290.1,79.79 288.15,81.74 286.2,79.79" fill="#b050e8"/>
<polygon points="300.9,67.33 302.85,69.28 300.9,71.23 298.95,69.28" fill="#b050e8"/>
<polygon points="313.65,57.05 315.6,59 313.65,60.95 311.7,59" fill="#b050e8"/>
<polygon points="326.4,46.24 328.35,48.19 326.4,50.14 324.45,48.19" fill="#b050e8"/>
<polygon points="339.15,35.54 341.1,37.49 339.15,39.44 337.2,37.49" fill="#b050e8"/>
<polygon points="351.9,22.68 353.85,24.63 351.9,26.58 349.95,24.63" fill="#b050e8"/>
<text transform="translate(213,17.4) scale(0.93,1)" font-size="7.51" text-anchor="start" fill="#2a2a2a" stroke="#2a2a2a" stroke-width="0.18" >Cycle numbers of</text>
<text transform="translate(213,26.4) scale(0.93,1)" font-size="7.51" text-anchor="start" fill="#2a2a2a" stroke="#2a2a2a" stroke-width="0.18" >MXene/MWCNTs structure:</text>
<line x1="213" y1="33" x2="228.8" y2="33" stroke="#b050e8" stroke-width="0.9" />
<polygon points="221,31.11 222.88,33 221,34.88 219.12,33" fill="#b050e8"/>
<text transform="translate(230.8,35.7) scale(0.93,1)" font-size="7.51" text-anchor="start" fill="#2a2a2a" stroke="#2a2a2a" stroke-width="0.18" >12</text>
<line x1="213" y1="41.1" x2="228.8" y2="41.1" stroke="#2fae62" stroke-width="0.9" />
<polygon points="221,42.91 222.81,39.74 219.19,39.74" fill="#2fae62"/>
<text transform="translate(230.8,43.8) scale(0.93,1)" font-size="7.51" text-anchor="start" fill="#2a2a2a" stroke="#2a2a2a" stroke-width="0.18" >9</text>
<line x1="213" y1="49.8" x2="228.8" y2="49.8" stroke="#2f6fe6" stroke-width="0.9" />
<polygon points="221,47.99 222.81,51.16 219.19,51.16" fill="#2f6fe6"/>
<text transform="translate(230.8,52.5) scale(0.93,1)" font-size="7.51" text-anchor="start" fill="#2a2a2a" stroke="#2a2a2a" stroke-width="0.18" >6</text>
<line x1="213" y1="58.6" x2="228.8" y2="58.6" stroke="#f03838" stroke-width="0.9" />
<circle cx="221" cy="58.6" r="1.45" fill="#f03838"/>
<text transform="translate(230.8,61.3) scale(0.93,1)" font-size="7.51" text-anchor="start" fill="#2a2a2a" stroke="#2a2a2a" stroke-width="0.18" >3</text>
<text transform="translate(213,70.1) scale(0.93,1)" font-size="7.51" text-anchor="start" fill="#2a2a2a" stroke="#2a2a2a" stroke-width="0.18" >Without MXene</text>
<line x1="213" y1="76.2" x2="228.8" y2="76.2" stroke="#333333" stroke-width="0.9" />
<circle cx="221" cy="76.2" r="1.5" fill="#333333"/>
<text transform="translate(230.8,78.9) scale(0.93,1)" font-size="7.51" text-anchor="start" fill="#2a2a2a" stroke="#2a2a2a" stroke-width="0.18" >6</text>
<text transform="translate(233.2,94.1) scale(0.93,1)" font-size="7.02" text-anchor="start" fill="#2a2a2a" stroke="#2a2a2a" stroke-width="0.16" >GF=34.8</text>
<text x="233.2" y="102.6" font-size="6.5" fill="#2a2a2a" stroke="#2a2a2a" stroke-width="0.18">R<tspan font-size="4.2" dy="-2.6">2</tspan><tspan dy="2.6">=0.99</tspan></text>
<rect x="391.7" y="8.9" width="152.1" height="123" fill="none" stroke="#808080" stroke-width="1.35"/>
<line x1="391.6" y1="131.9" x2="391.6" y2="134.5" stroke="#808080" stroke-width="1" />
<line x1="417.78" y1="131.9" x2="417.78" y2="134.5" stroke="#808080" stroke-width="1" />
<line x1="443.95" y1="131.9" x2="443.95" y2="134.5" stroke="#808080" stroke-width="1" />
<line x1="470.12" y1="131.9" x2="470.12" y2="134.5" stroke="#808080" stroke-width="1" />
<line x1="496.3" y1="131.9" x2="496.3" y2="134.5" stroke="#808080" stroke-width="1" />
<line x1="522.48" y1="131.9" x2="522.48" y2="134.5" stroke="#808080" stroke-width="1" />
<line x1="404.69" y1="131.9" x2="404.69" y2="133.4" stroke="#808080" stroke-width="0.9" />
<line x1="430.86" y1="131.9" x2="430.86" y2="133.4" stroke="#808080" stroke-width="0.9" />
<line x1="457.04" y1="131.9" x2="457.04" y2="133.4" stroke="#808080" stroke-width="0.9" />
<line x1="483.21" y1="131.9" x2="483.21" y2="133.4" stroke="#808080" stroke-width="0.9" />
<line x1="509.39" y1="131.9" x2="509.39" y2="133.4" stroke="#808080" stroke-width="0.9" />
<line x1="535.56" y1="131.9" x2="535.56" y2="133.4" stroke="#808080" stroke-width="0.9" />
<line x1="391.7" y1="131.5" x2="389.1" y2="131.5" stroke="#808080" stroke-width="1" />
<line x1="391.7" y1="106.98" x2="389.1" y2="106.98" stroke="#808080" stroke-width="1" />
<line x1="391.7" y1="82.46" x2="389.1" y2="82.46" stroke="#808080" stroke-width="1" />
<line x1="391.7" y1="57.94" x2="389.1" y2="57.94" stroke="#808080" stroke-width="1" />
<line x1="391.7" y1="33.42" x2="389.1" y2="33.42" stroke="#808080" stroke-width="1" />
<line x1="391.7" y1="8.91" x2="389.1" y2="8.91" stroke="#808080" stroke-width="1" />
<line x1="391.7" y1="119.24" x2="390.2" y2="119.24" stroke="#808080" stroke-width="0.9" />
<line x1="391.7" y1="94.72" x2="390.2" y2="94.72" stroke="#808080" stroke-width="0.9" />
<line x1="391.7" y1="70.2" x2="390.2" y2="70.2" stroke="#808080" stroke-width="0.9" />
<line x1="391.7" y1="45.68" x2="390.2" y2="45.68" stroke="#808080" stroke-width="0.9" />
<line x1="391.7" y1="21.16" x2="390.2" y2="21.16" stroke="#808080" stroke-width="0.9" />
<text transform="translate(391.6,141.4) scale(0.93,1)" font-size="7.24" text-anchor="middle" fill="#2a2a2a" stroke="#2a2a2a" stroke-width="0.14" >0</text>
<text transform="translate(417.78,141.4) scale(0.93,1)" font-size="7.24" text-anchor="middle" fill="#2a2a2a" stroke="#2a2a2a" stroke-width="0.14" >50</text>
<text transform="translate(443.95,141.4) scale(0.93,1)" font-size="7.24" text-anchor="middle" fill="#2a2a2a" stroke="#2a2a2a" stroke-width="0.14" >100</text>
<text transform="translate(470.12,141.4) scale(0.93,1)" font-size="7.24" text-anchor="middle" fill="#2a2a2a" stroke="#2a2a2a" stroke-width="0.14" >150</text>
<text transform="translate(496.3,141.4) scale(0.93,1)" font-size="7.24" text-anchor="middle" fill="#2a2a2a" stroke="#2a2a2a" stroke-width="0.14" >200</text>
<text transform="translate(522.48,141.4) scale(0.93,1)" font-size="7.24" text-anchor="middle" fill="#2a2a2a" stroke="#2a2a2a" stroke-width="0.14" >250</text>
<text transform="translate(387.8,134.4) scale(0.93,1)" font-size="7.24" text-anchor="end" fill="#2a2a2a" stroke="#2a2a2a" stroke-width="0.14" >0</text>
<text transform="translate(387.8,109.88) scale(0.93,1)" font-size="7.24" text-anchor="end" fill="#2a2a2a" stroke="#2a2a2a" stroke-width="0.14" >30</text>
<text transform="translate(387.8,85.36) scale(0.93,1)" font-size="7.24" text-anchor="end" fill="#2a2a2a" stroke="#2a2a2a" stroke-width="0.14" >60</text>
<text transform="translate(387.8,60.84) scale(0.93,1)" font-size="7.24" text-anchor="end" fill="#2a2a2a" stroke="#2a2a2a" stroke-width="0.14" >90</text>
<text transform="translate(387.8,36.32) scale(0.93,1)" font-size="7.24" text-anchor="end" fill="#2a2a2a" stroke="#2a2a2a" stroke-width="0.14" >120</text>
<text transform="translate(387.8,11.81) scale(0.93,1)" font-size="7.24" text-anchor="end" fill="#2a2a2a" stroke="#2a2a2a" stroke-width="0.14" >150</text>
<text transform="translate(376.4,71.2) rotate(-90)" font-size="7.6" text-anchor="middle" fill="#2a2a2a">ΔR/R<tspan font-size="5.32" dy="1.67">0</tspan></text>
<text transform="translate(468,149.6) scale(0.93,1)" font-size="8.32" text-anchor="middle" fill="#2a2a2a" stroke="#2a2a2a" stroke-width="0.22" >time (s)</text>
<text x="367.1" y="12.9" font-size="10.4" text-anchor="start" fill="#111" font-weight="bold" >(c)</text>
<polyline points="391.6,131.5 392.02,131.5 392.12,131.21 392.23,130.92 392.27,130.92 392.31,130.92 392.39,130.92 392.5,130.92 392.62,130.92 392.65,130.92 392.82,130.92 393.01,130.92 393.17,130.92 393.33,130.92 393.69,130.92 393.8,130.92 394.22,130.92 394.43,130.92 394.74,130.92 395.26,130.93 395.37,130.93 395.79,130.93 396.31,130.93 396.55,130.93 396.84,130.93 397.36,130.93 397.88,130.93 398.41,130.93 398.93,130.93 399.45,130.93 399.98,130.93 400.5,130.93 401.02,130.93 401.55,130.93 402.07,130.93 402.59,130.93 403.12,130.93 403.64,130.93 404.16,130.93 404.69,130.93 405.21,130.93 405.73,130.93 406.26,130.93 406.78,130.93 407.31,130.93 407.83,130.93 408.35,130.93 408.88,130.93 409.4,130.93 409.92,130.93 410.18,130.93 410.39,130.34 410.43,130.34 410.45,130.34 410.47,130.34 410.55,130.34 410.67,130.34 410.79,130.34 410.97,130.34 410.98,130.34 411.18,130.35 411.49,130.35 411.96,130.35 412.02,130.35 412.54,130.35 412.59,130.35 413.06,130.35 413.53,130.35 413.59,130.35 414.11,130.35 414.63,130.35 414.71,130.35 415.16,130.35 415.68,130.35 416.2,130.35 416.73,130.35 417.25,130.35 417.78,130.35 418.3,130.35 418.82,130.35 419.35,130.35 419.87,130.36 420.39,130.36 420.92,130.36 421.44,130.36 421.96,130.36 422.49,130.36 423.01,130.36 423.53,130.36 424.06,130.36 424.58,130.36 425.1,130.36 425.63,130.36 426.15,130.36 426.67,130.36 427.2,130.36 427.72,130.36 428.22,130.36 428.25,130.23 428.43,129.35 428.47,129.35 428.51,129.35 428.59,129.35 428.7,129.35 428.77,129.35 428.82,129.35 429.02,129.35 429.21,129.36 429.29,129.36 429.53,129.36 429.82,129.36 430,129.36 430.34,129.36 430.63,129.36 430.86,129.36 431.39,129.37 431.57,129.37 431.91,129.37 432.43,129.37 432.75,129.37 432.96,129.37 433.48,129.37 434,129.37 434.53,129.37 435.05,129.37 435.57,129.37 436.1,129.37 436.62,129.37 437.14,129.37 437.67,129.37 438.19,129.37 438.72,129.37 439.24,129.37 439.76,129.37 440.29,129.37 440.81,129.37 441.33,129.37 441.86,129.37 442.38,129.37 442.9,129.37 443.43,129.37 443.95,129.37 444.47,129.37 445,129.37 445.52,129.37 446.04,129.37 446.25,129.37 446.46,128.19 446.5,128.19 446.54,128.19 446.57,128.19 446.62,128.19 446.74,128.19 446.86,128.2 447.05,128.2 447.09,128.2 447.25,128.2 447.56,128.2 447.61,128.2 448.03,128.21 448.14,128.21 448.66,128.21 449.19,128.21 449.6,128.22 449.71,128.22 450.23,128.22 450.76,128.22 450.78,128.22 451.28,128.22 451.8,128.22 452.33,128.22 452.85,128.23 453.37,128.23 453.9,128.23 454.42,128.23 454.94,128.23 455.47,128.23 455.99,128.23 456.51,128.23 457.04,128.23 457.56,128.23 458.08,128.23 458.61,128.23 459.13,128.23 459.66,128.23 460.18,128.23 460.7,128.23 461.23,128.23 461.75,128.23 462.27,128.23 462.8,128.23 463.32,128.23 463.84,128.23 464.29,128.23 464.37,127.5 464.5,126.29 464.54,126.29 464.58,126.29 464.65,126.29 464.77,126.29 464.89,126.3 465.09,126.3 465.28,126.3 465.41,126.3 465.6,126.31 465.94,126.31 466.07,126.31 466.46,126.32 466.7,126.32 466.98,126.32 467.51,126.33 467.64,126.33 468.03,126.33 468.55,126.33 468.82,126.34 469.08,126.34 469.6,126.34 470.12,126.34 470.65,126.34 471.17,126.34 471.7,126.34 472.22,126.35 472.74,126.35 473.27,126.35 473.79,126.35 474.31,126.35 474.84,126.35 475.36,126.35 475.88,126.35 476.41,126.35 476.93,126.35 477.45,126.35 477.98,126.35 478.5,126.35 479.02,126.35 479.55,126.35 480.07,126.35 480.6,126.35 481.12,126.35 481.64,126.35 482.17,126.35 482.32,126.35 482.53,125.3 482.57,125.3 482.61,125.3 482.69,125.3 482.81,125.3 482.92,125.31 483.12,125.31 483.21,125.31 483.32,125.31 483.63,125.32 483.74,125.32 484.1,125.33 484.26,125.33 484.73,125.33 484.78,125.33 485.31,125.34 485.67,125.34 485.83,125.34 486.35,125.35 486.85,125.35 486.88,125.35 487.4,125.35 487.92,125.36 488.45,125.36 488.97,125.36 489.49,125.36 490.02,125.36 490.54,125.36 491.06,125.37 491.59,125.37 492.11,125.37 492.64,125.37 493.16,125.37 493.68,125.37 494.21,125.37 494.73,125.37 495.25,125.37 495.78,125.37 496.3,125.37 496.82,125.37 497.35,125.37 497.87,125.37 498.39,125.37 498.92,125.37 499.44,125.37 499.96,125.37 500.36,125.37 500.49,123.51 500.57,122.4 500.61,122.4 500.65,122.4 500.72,122.41 500.84,122.41 500.96,122.41 501.01,122.42 501.16,122.42 501.35,122.43 501.54,122.43 501.67,122.43 502.06,122.44 502.14,122.44 502.58,122.45 502.77,122.46 503.11,122.46 503.63,122.47 503.71,122.47 504.15,122.48 504.68,122.48 504.89,122.48 505.2,122.49 505.72,122.49 506.25,122.49 506.77,122.49 507.29,122.5 507.82,122.5 508.34,122.5 508.86,122.5 509.39,122.5 509.91,122.5 510.43,122.51 510.96,122.51 511.48,122.51 512,122.51 512.53,122.51 513.05,122.51 513.58,122.51 514.1,122.51 514.62,122.51 515.15,122.51 515.67,122.51 516.19,122.51 516.72,122.51 517.24,122.51 517.76,122.51 518.29,122.51 518.39,122.51 518.6,120 518.64,120 518.68,120.01 518.76,120.01 518.81,120.01 518.88,120.01 518.99,120.02 519.19,120.03 519.33,120.03 519.39,120.03 519.7,120.04 519.86,120.05 520.17,120.06 520.38,120.06 520.8,120.07 520.9,120.07 521.43,120.08 521.74,120.09 521.95,120.09 522.48,120.1 522.92,120.11 523,120.11 523.52,120.11 524.05,120.12 524.57,120.12 525.09,120.12 525.62,120.12 526.14,120.13 526.66,120.13 527.19,120.13 527.71,120.13 528.23,120.13 528.76,120.13 529.28,120.13 529.8,120.14 530.33,120.14 530.85,120.14 531.37,120.14 531.9,120.14 532.42,120.14 532.95,120.14 533.47,120.14 533.99,120.14 534.52,120.14 535.04,120.14 535.56,120.14 536.09,120.14 536.61,120.14 537.13,120.14 537.66,120.14 538.18,120.14 538.7,120.14 539.23,120.14 539.75,120.14 540.27,120.14 540.8,120.14 541.32,120.14 541.84,120.14 542.37,120.14 542.89,120.14 543.41,120.14" fill="none" stroke="#666666" stroke-width="1.0" stroke-linejoin="round" />
<polyline points="391.6,131.5 392.02,131.5 392.12,131.29 392.23,131.09 392.27,131.09 392.31,131.09 392.39,131.09 392.5,131.09 392.62,131.09 392.65,131.09 392.82,131.09 393.01,131.09 393.17,131.09 393.33,131.09 393.69,131.09 393.8,131.09 394.22,131.09 394.43,131.09 394.74,131.09 395.26,131.09 395.37,131.09 395.79,131.09 396.31,131.09 396.55,131.09 396.84,131.09 397.36,131.09 397.88,131.09 398.41,131.09 398.93,131.09 399.45,131.09 399.98,131.09 400.5,131.09 401.02,131.09 401.55,131.09 402.07,131.09 402.59,131.09 403.12,131.09 403.64,131.09 404.16,131.09 404.69,131.09 405.21,131.09 405.73,131.09 406.26,131.09 406.78,131.09 407.31,131.09 407.83,131.09 408.35,131.09 408.88,131.09 409.4,131.09 409.92,131.09 410.18,131.09 410.39,129.85 410.43,129.85 410.45,129.85 410.47,129.85 410.55,129.85 410.67,129.85 410.79,129.85 410.97,129.85 410.98,129.85 411.18,129.85 411.49,129.85 411.96,129.85 412.02,129.85 412.54,129.86 412.59,129.86 413.06,129.86 413.53,129.86 413.59,129.86 414.11,129.86 414.63,129.86 414.71,129.86 415.16,129.86 415.68,129.86 416.2,129.86 416.73,129.86 417.25,129.86 417.78,129.86 418.3,129.86 418.82,129.86 419.35,129.86 419.87,129.86 420.39,129.86 420.92,129.86 421.44,129.86 421.96,129.86 422.49,129.86 423.01,129.87 423.53,129.87 424.06,129.87 424.58,129.87 425.1,129.87 425.63,129.87 426.15,129.87 426.67,129.87 427.2,129.87 427.72,129.87 428.22,129.87 428.25,129.72 428.43,128.69 428.47,128.69 428.51,128.69 428.59,128.69 428.7,128.69 428.77,128.69 428.82,128.69 429.02,128.69 429.21,128.7 429.29,128.7 429.53,128.7 429.82,128.7 430,128.7 430.34,128.7 430.63,128.7 430.86,128.71 431.39,128.71 431.57,128.71 431.91,128.71 432.43,128.71 432.75,128.71 432.96,128.71 433.48,128.71 434,128.72 434.53,128.72 435.05,128.72 435.57,128.72 436.1,128.72 436.62,128.72 437.14,128.72 437.67,128.72 438.19,128.72 438.72,128.72 439.24,128.72 439.76,128.72 440.29,128.72 440.81,128.72 441.33,128.72 441.86,128.72 442.38,128.72 442.9,128.72 443.43,128.72 443.95,128.72 444.47,128.72 445,128.72 445.52,128.72 446.04,128.72 446.25,128.72 446.46,126.95 446.5,126.95 446.54,126.95 446.57,126.95 446.62,126.95 446.74,126.96 446.86,126.96 447.05,126.96 447.09,126.96 447.25,126.96 447.56,126.97 447.61,126.97 448.03,126.97 448.14,126.97 448.66,126.98 449.19,126.98 449.6,126.99 449.71,126.99 450.23,126.99 450.76,126.99 450.78,126.99 451.28,126.99 451.8,126.99 452.33,127 452.85,127 453.37,127 453.9,127 454.42,127 454.94,127 455.47,127 455.99,127 456.51,127 457.04,127 457.56,127 458.08,127 458.61,127 459.13,127 459.66,127 460.18,127 460.7,127 461.23,127 461.75,127 462.27,127 462.8,127 463.32,127 463.84,127 464.29,127 464.37,125.74 464.5,123.64 464.54,123.64 464.58,123.64 464.65,123.65 464.77,123.65 464.89,123.65 465.09,123.66 465.28,123.66 465.41,123.67 465.6,123.67 465.94,123.68 466.07,123.68 466.46,123.69 466.7,123.69 466.98,123.69 467.51,123.7 467.64,123.7 468.03,123.71 468.55,123.71 468.82,123.71 469.08,123.71 469.6,123.72 470.12,123.72 470.65,123.72 471.17,123.72 471.7,123.73 472.22,123.73 472.74,123.73 473.27,123.73 473.79,123.73 474.31,123.73 474.84,123.73 475.36,123.73 475.88,123.73 476.41,123.73 476.93,123.73 477.45,123.73 477.98,123.73 478.5,123.73 479.02,123.73 479.55,123.73 480.07,123.73 480.6,123.74 481.12,123.74 481.64,123.74 482.17,123.74 482.32,123.74 482.53,121.33 482.57,121.33 482.61,121.33 482.69,121.33 482.81,121.34 482.92,121.34 483.12,121.35 483.21,121.35 483.32,121.35 483.63,121.36 483.74,121.36 484.1,121.37 484.26,121.38 484.73,121.39 484.78,121.39 485.31,121.4 485.67,121.4 485.83,121.4 486.35,121.41 486.85,121.42 486.88,121.42 487.4,121.42 487.92,121.43 488.45,121.43 488.97,121.43 489.49,121.43 490.02,121.44 490.54,121.44 491.06,121.44 491.59,121.44 492.11,121.44 492.64,121.44 493.16,121.44 493.68,121.44 494.21,121.44 494.73,121.44 495.25,121.45 495.78,121.45 496.3,121.45 496.82,121.45 497.35,121.45 497.87,121.45 498.39,121.45 498.92,121.45 499.44,121.45 499.96,121.45 500.36,121.45 500.49,118.79 500.57,117.19 500.61,117.19 500.65,117.2 500.72,117.2 500.84,117.21 500.96,117.21 501.01,117.21 501.16,117.22 501.35,117.23 501.54,117.24 501.67,117.24 502.06,117.26 502.14,117.26 502.58,117.27 502.77,117.28 503.11,117.29 503.63,117.3 503.71,117.3 504.15,117.31 504.68,117.31 504.89,117.32 505.2,117.32 505.72,117.33 506.25,117.33 506.77,117.34 507.29,117.34 507.82,117.34 508.34,117.35 508.86,117.35 509.39,117.35 509.91,117.35 510.43,117.35 510.96,117.35 511.48,117.36 512,117.36 512.53,117.36 513.05,117.36 513.58,117.36 514.1,117.36 514.62,117.36 515.15,117.36 515.67,117.36 516.19,117.36 516.72,117.36 517.24,117.36 517.76,117.36 518.29,117.36 518.39,117.36 518.6,111.98 518.64,111.98 518.68,111.99 518.76,111.99 518.81,112 518.88,112 518.99,112.01 519.19,112.02 519.33,112.03 519.39,112.03 519.7,112.05 519.86,112.06 520.17,112.07 520.38,112.08 520.8,112.1 520.9,112.1 521.43,112.12 521.74,112.13 521.95,112.13 522.48,112.14 522.92,112.15 523,112.15 523.52,112.16 524.05,112.17 524.57,112.18 525.09,112.18 525.62,112.19 526.14,112.19 526.66,112.19 527.19,112.2 527.71,112.2 528.23,112.2 528.76,112.2 529.28,112.2 529.8,112.21 530.33,112.21 530.85,112.21 531.37,112.21 531.9,112.21 532.42,112.21 532.95,112.21 533.47,112.21 533.99,112.21 534.52,112.21 535.04,112.21 535.56,112.21 536.09,112.21 536.61,112.21 537.13,112.21 537.66,112.21 538.18,112.21 538.7,112.21 539.23,112.21 539.75,112.21 540.27,112.21 540.8,112.21 541.32,112.21 541.84,112.21 542.37,112.21 542.89,112.21 543.41,112.21" fill="none" stroke="#f06870" stroke-width="1.0" stroke-linejoin="round" />
<polyline points="391.6,131.5 392.02,131.5 392.12,131.25 392.23,131 392.27,131 392.31,131 392.39,131 392.5,131 392.62,131 392.65,131 392.82,131 393.01,131.01 393.17,131.01 393.33,131.01 393.69,131.01 393.8,131.01 394.22,131.01 394.43,131.01 394.74,131.01 395.26,131.01 395.37,131.01 395.79,131.01 396.31,131.01 396.55,131.01 396.84,131.01 397.36,131.01 397.88,131.01 398.41,131.01 398.93,131.01 399.45,131.01 399.98,131.01 400.5,131.01 401.02,131.01 401.55,131.01 402.07,131.01 402.59,131.01 403.12,131.01 403.64,131.01 404.16,131.01 404.69,131.01 405.21,131.01 405.73,131.01 406.26,131.01 406.78,131.01 407.31,131.01 407.83,131.01 408.35,131.01 408.88,131.01 409.4,131.01 409.92,131.01 410.18,131.01 410.39,129.51 410.43,129.52 410.45,129.52 410.47,129.52 410.55,129.52 410.67,129.52 410.79,129.52 410.97,129.52 410.98,129.52 411.18,129.52 411.49,129.52 411.96,129.52 412.02,129.52 412.54,129.53 412.59,129.53 413.06,129.53 413.53,129.53 413.59,129.53 414.11,129.53 414.63,129.53 414.71,129.53 415.16,129.53 415.68,129.53 416.2,129.53 416.73,129.54 417.25,129.54 417.78,129.54 418.3,129.54 418.82,129.54 419.35,129.54 419.87,129.54 420.39,129.54 420.92,129.54 421.44,129.54 421.96,129.54 422.49,129.54 423.01,129.54 423.53,129.54 424.06,129.54 424.58,129.54 425.1,129.54 425.63,129.54 426.15,129.54 426.67,129.54 427.2,129.54 427.72,129.54 428.22,129.54 428.25,129.27 428.43,127.36 428.47,127.37 428.51,127.37 428.59,127.37 428.7,127.37 428.77,127.37 428.82,127.37 429.02,127.37 429.21,127.38 429.29,127.38 429.53,127.38 429.82,127.38 430,127.38 430.34,127.39 430.63,127.39 430.86,127.39 431.39,127.39 431.57,127.4 431.91,127.4 432.43,127.4 432.75,127.4 432.96,127.4 433.48,127.4 434,127.41 434.53,127.41 435.05,127.41 435.57,127.41 436.1,127.41 436.62,127.41 437.14,127.41 437.67,127.41 438.19,127.41 438.72,127.41 439.24,127.41 439.76,127.41 440.29,127.41 440.81,127.41 441.33,127.41 441.86,127.41 442.38,127.41 442.9,127.41 443.43,127.41 443.95,127.41 444.47,127.41 445,127.41 445.52,127.41 446.04,127.41 446.25,127.41 446.46,124.22 446.5,124.22 446.54,124.22 446.57,124.22 446.62,124.23 446.74,124.23 446.86,124.23 447.05,124.24 447.09,124.24 447.25,124.24 447.56,124.25 447.61,124.25 448.03,124.26 448.14,124.26 448.66,124.26 449.19,124.27 449.6,124.28 449.71,124.28 450.23,124.28 450.76,124.29 450.78,124.29 451.28,124.29 451.8,124.29 452.33,124.29 452.85,124.3 453.37,124.3 453.9,124.3 454.42,124.3 454.94,124.3 455.47,124.3 455.99,124.3 456.51,124.3 457.04,124.3 457.56,124.31 458.08,124.31 458.61,124.31 459.13,124.31 459.66,124.31 460.18,124.31 460.7,124.31 461.23,124.31 461.75,124.31 462.27,124.31 462.8,124.31 463.32,124.31 463.84,124.31 464.29,124.31 464.37,122.57 464.5,119.67 464.54,119.67 464.58,119.68 464.65,119.68 464.77,119.68 464.89,119.69 465.09,119.7 465.28,119.7 465.41,119.71 465.6,119.71 465.94,119.72 466.07,119.73 466.46,119.74 466.7,119.74 466.98,119.75 467.51,119.76 467.64,119.76 468.03,119.77 468.55,119.77 468.82,119.78 469.08,119.78 469.6,119.78 470.12,119.79 470.65,119.79 471.17,119.8 471.7,119.8 472.22,119.8 472.74,119.8 473.27,119.8 473.79,119.81 474.31,119.81 474.84,119.81 475.36,119.81 475.88,119.81 476.41,119.81 476.93,119.81 477.45,119.81 477.98,119.81 478.5,119.81 479.02,119.81 479.55,119.81 480.07,119.81 480.6,119.81 481.12,119.81 481.64,119.81 482.17,119.81 482.32,119.81 482.53,115.95 482.57,115.95 482.61,115.95 482.69,115.96 482.81,115.97 482.92,115.97 483.12,115.98 483.21,115.99 483.32,115.99 483.63,116 483.74,116.01 484.1,116.02 484.26,116.03 484.73,116.04 484.78,116.04 485.31,116.06 485.67,116.07 485.83,116.07 486.35,116.08 486.85,116.09 486.88,116.09 487.4,116.1 487.92,116.1 488.45,116.11 488.97,116.11 489.49,116.11 490.02,116.12 490.54,116.12 491.06,116.12 491.59,116.12 492.11,116.13 492.64,116.13 493.16,116.13 493.68,116.13 494.21,116.13 494.73,116.13 495.25,116.13 495.78,116.13 496.3,116.13 496.82,116.13 497.35,116.13 497.87,116.13 498.39,116.13 498.92,116.13 499.44,116.13 499.96,116.13 500.36,116.13 500.49,111.94 500.57,109.42 500.61,109.42 500.65,109.42 500.72,109.43 500.84,109.44 500.96,109.45 501.01,109.45 501.16,109.46 501.35,109.47 501.54,109.49 501.67,109.49 502.06,109.52 502.14,109.52 502.58,109.54 502.77,109.55 503.11,109.56 503.63,109.58 503.71,109.58 504.15,109.59 504.68,109.61 504.89,109.61 505.2,109.62 505.72,109.63 506.25,109.64 506.77,109.64 507.29,109.65 507.82,109.65 508.34,109.66 508.86,109.66 509.39,109.66 509.91,109.66 510.43,109.67 510.96,109.67 511.48,109.67 512,109.67 512.53,109.67 513.05,109.67 513.58,109.67 514.1,109.67 514.62,109.68 515.15,109.68 515.67,109.68 516.19,109.68 516.72,109.68 517.24,109.68 517.76,109.68 518.29,109.68 518.39,109.68 518.6,101.23 518.64,101.23 518.68,101.24 518.76,101.25 518.81,101.25 518.88,101.26 518.99,101.27 519.19,101.29 519.33,101.3 519.39,101.31 519.7,101.33 519.86,101.35 520.17,101.37 520.38,101.38 520.8,101.41 520.9,101.41 521.43,101.44 521.74,101.45 521.95,101.46 522.48,101.48 522.92,101.5 523,101.5 523.52,101.51 524.05,101.52 524.57,101.53 525.09,101.54 525.62,101.55 526.14,101.55 526.66,101.56 527.19,101.56 527.71,101.57 528.23,101.57 528.76,101.57 529.28,101.57 529.8,101.58 530.33,101.58 530.85,101.58 531.37,101.58 531.9,101.58 532.42,101.58 532.95,101.58 533.47,101.58 533.99,101.58 534.52,101.58 535.04,101.58 535.56,101.59 536.09,101.59 536.61,101.59 537.13,101.59 537.66,101.59 538.18,101.59 538.7,101.59 539.23,101.59 539.75,101.59 540.27,101.59 540.8,101.59 541.32,101.59 541.84,101.59 542.37,101.59 542.89,101.59 543.41,101.59" fill="none" stroke="#b040e0" stroke-width="1.0" stroke-linejoin="round" />
<polyline points="391.6,131.5 392.02,131.5 392.12,131.17 392.23,130.84 392.27,130.84 392.31,130.84 392.39,130.84 392.5,130.84 392.62,130.84 392.65,130.84 392.82,130.84 393.01,130.84 393.17,130.84 393.33,130.84 393.69,130.84 393.8,130.84 394.22,130.84 394.43,130.84 394.74,130.84 395.26,130.84 395.37,130.84 395.79,130.84 396.31,130.84 396.55,130.84 396.84,130.84 397.36,130.84 397.88,130.84 398.41,130.85 398.93,130.85 399.45,130.85 399.98,130.85 400.5,130.85 401.02,130.85 401.55,130.85 402.07,130.85 402.59,130.85 403.12,130.85 403.64,130.85 404.16,130.85 404.69,130.85 405.21,130.85 405.73,130.85 406.26,130.85 406.78,130.85 407.31,130.85 407.83,130.85 408.35,130.85 408.88,130.85 409.4,130.85 409.92,130.85 410.18,130.85 410.39,128.61 410.43,128.61 410.45,128.61 410.47,128.61 410.55,128.61 410.67,128.61 410.79,128.61 410.97,128.61 410.98,128.61 411.18,128.61 411.49,128.62 411.96,128.62 412.02,128.62 412.54,128.62 412.59,128.62 413.06,128.62 413.53,128.63 413.59,128.63 414.11,128.63 414.63,128.63 414.71,128.63 415.16,128.63 415.68,128.63 416.2,128.63 416.73,128.63 417.25,128.64 417.78,128.64 418.3,128.64 418.82,128.64 419.35,128.64 419.87,128.64 420.39,128.64 420.92,128.64 421.44,128.64 421.96,128.64 422.49,128.64 423.01,128.64 423.53,128.64 424.06,128.64 424.58,128.64 425.1,128.64 425.63,128.64 426.15,128.64 426.67,128.64 427.2,128.64 427.72,128.64 428.22,128.64 428.25,128.22 428.43,125.3 428.47,125.3 428.51,125.3 428.59,125.3 428.7,125.3 428.77,125.3 428.82,125.31 429.02,125.31 429.21,125.31 429.29,125.31 429.53,125.32 429.82,125.32 430,125.33 430.34,125.33 430.63,125.33 430.86,125.34 431.39,125.34 431.57,125.34 431.91,125.35 432.43,125.35 432.75,125.35 432.96,125.35 433.48,125.36 434,125.36 434.53,125.36 435.05,125.36 435.57,125.36 436.1,125.36 436.62,125.36 437.14,125.37 437.67,125.37 438.19,125.37 438.72,125.37 439.24,125.37 439.76,125.37 440.29,125.37 440.81,125.37 441.33,125.37 441.86,125.37 442.38,125.37 442.9,125.37 443.43,125.37 443.95,125.37 444.47,125.37 445,125.37 445.52,125.37 446.04,125.37 446.25,125.37 446.46,120.75 446.5,120.75 446.54,120.75 446.57,120.75 446.62,120.75 446.74,120.76 446.86,120.76 447.05,120.77 447.09,120.77 447.25,120.78 447.56,120.79 447.61,120.79 448.03,120.8 448.14,120.8 448.66,120.81 449.19,120.82 449.6,120.83 449.71,120.83 450.23,120.84 450.76,120.84 450.78,120.84 451.28,120.85 451.8,120.85 452.33,120.86 452.85,120.86 453.37,120.86 453.9,120.86 454.42,120.86 454.94,120.87 455.47,120.87 455.99,120.87 456.51,120.87 457.04,120.87 457.56,120.87 458.08,120.87 458.61,120.87 459.13,120.87 459.66,120.87 460.18,120.87 460.7,120.87 461.23,120.87 461.75,120.87 462.27,120.87 462.8,120.87 463.32,120.87 463.84,120.87 464.29,120.87 464.37,118.41 464.5,114.3 464.54,114.3 464.58,114.3 464.65,114.31 464.77,114.31 464.89,114.32 465.09,114.33 465.28,114.34 465.41,114.35 465.6,114.36 465.94,114.37 466.07,114.38 466.46,114.39 466.7,114.4 466.98,114.41 467.51,114.42 467.64,114.43 468.03,114.43 468.55,114.44 468.82,114.45 469.08,114.45 469.6,114.46 470.12,114.47 470.65,114.47 471.17,114.48 471.7,114.48 472.22,114.48 472.74,114.49 473.27,114.49 473.79,114.49 474.31,114.49 474.84,114.49 475.36,114.49 475.88,114.49 476.41,114.5 476.93,114.5 477.45,114.5 477.98,114.5 478.5,114.5 479.02,114.5 479.55,114.5 480.07,114.5 480.6,114.5 481.12,114.5 481.64,114.5 482.17,114.5 482.32,114.5 482.53,106.03 482.57,106.03 482.61,106.03 482.69,106.04 482.81,106.05 482.92,106.06 483.12,106.08 483.21,106.08 483.32,106.09 483.63,106.11 483.74,106.12 484.1,106.14 484.26,106.15 484.73,106.18 484.78,106.18 485.31,106.2 485.67,106.22 485.83,106.22 486.35,106.24 486.85,106.25 486.88,106.25 487.4,106.26 487.92,106.27 488.45,106.28 488.97,106.29 489.49,106.29 490.02,106.3 490.54,106.3 491.06,106.31 491.59,106.31 492.11,106.31 492.64,106.32 493.16,106.32 493.68,106.32 494.21,106.32 494.73,106.32 495.25,106.32 495.78,106.32 496.3,106.32 496.82,106.32 497.35,106.32 497.87,106.32 498.39,106.33 498.92,106.33 499.44,106.33 499.96,106.33 500.36,106.33 500.49,95.4 500.57,88.84 500.61,88.9 500.65,88.97 500.72,89.09 500.84,89.25 500.96,89.4 501.01,89.46 501.16,89.61 501.35,89.79 501.54,89.94 501.67,90.04 502.06,90.28 502.14,90.32 502.58,90.53 502.77,90.6 503.11,90.73 503.63,90.9 503.71,90.93 504.15,91.05 504.68,91.19 504.89,91.24 505.2,91.31 505.72,91.42 506.25,91.52 506.77,91.61 507.29,91.7 507.82,91.78 508.34,91.85 508.86,91.91 509.39,91.98 509.91,92.03 510.43,92.08 510.96,92.13 511.48,92.17 512,92.22 512.53,92.25 513.05,92.29 513.58,92.32 514.1,92.35 514.62,92.37 515.15,92.4 515.67,92.42 516.19,92.44 516.72,92.46 517.24,92.48 517.76,92.49 518.29,92.51 518.39,92.51 518.6,57.17 518.64,57.31 518.68,57.45 518.76,57.7 518.81,57.87 518.88,58.06 518.99,58.39 519.19,58.87 519.33,59.18 519.39,59.29 519.7,59.86 519.86,60.11 520.17,60.55 520.38,60.8 520.8,61.23 520.9,61.32 521.43,61.67 521.74,61.81 521.95,61.88 522.48,62 522.92,62.08 523,62.09 523.52,62.19 524.05,62.29 524.57,62.37 525.09,62.4 525.62,62.37 526.14,62.32 526.66,62.3 527.19,62.35 527.71,62.48 528.23,62.65 528.76,62.78 529.28,62.84 529.8,62.82 530.33,62.76 530.85,62.72 531.37,62.75 531.9,62.82 532.42,62.92 532.95,62.98 533.47,62.98 533.99,62.95 534.52,62.92 535.04,62.93 535.56,62.98 536.09,63.04 536.61,63.07 537.13,63.03 537.66,62.95 538.18,62.88 538.7,62.86 539.23,62.92 539.75,63.03 540.27,63.14 540.8,63.19 541.32,63.16 541.84,63.06 542.37,62.97 542.89,62.93 543.41,62.96" fill="none" stroke="#50b888" stroke-width="1.0" stroke-linejoin="round" />
<polyline points="391.6,131.5 392.02,131.5 392.12,131.09 392.23,130.67 392.27,130.67 392.31,130.67 392.39,130.67 392.5,130.67 392.62,130.67 392.65,130.67 392.82,130.67 393.01,130.68 393.17,130.68 393.33,130.68 393.69,130.68 393.8,130.68 394.22,130.68 394.43,130.68 394.74,130.68 395.26,130.68 395.37,130.68 395.79,130.68 396.31,130.68 396.55,130.68 396.84,130.68 397.36,130.68 397.88,130.68 398.41,130.68 398.93,130.68 399.45,130.68 399.98,130.68 400.5,130.68 401.02,130.68 401.55,130.68 402.07,130.68 402.59,130.68 403.12,130.68 403.64,130.68 404.16,130.68 404.69,130.68 405.21,130.68 405.73,130.68 406.26,130.68 406.78,130.68 407.31,130.68 407.83,130.68 408.35,130.68 408.88,130.68 409.4,130.68 409.92,130.68 410.18,130.68 410.39,127.12 410.43,127.12 410.45,127.12 410.47,127.12 410.55,127.12 410.67,127.12 410.79,127.12 410.97,127.13 410.98,127.13 411.18,127.13 411.49,127.13 411.96,127.14 412.02,127.14 412.54,127.14 412.59,127.14 413.06,127.15 413.53,127.15 413.59,127.15 414.11,127.15 414.63,127.15 414.71,127.16 415.16,127.16 415.68,127.16 416.2,127.16 416.73,127.16 417.25,127.16 417.78,127.16 418.3,127.16 418.82,127.16 419.35,127.17 419.87,127.17 420.39,127.17 420.92,127.17 421.44,127.17 421.96,127.17 422.49,127.17 423.01,127.17 423.53,127.17 424.06,127.17 424.58,127.17 425.1,127.17 425.63,127.17 426.15,127.17 426.67,127.17 427.2,127.17 427.72,127.17 428.22,127.17 428.25,126.64 428.43,122.98 428.47,122.98 428.51,122.98 428.59,122.99 428.7,122.99 428.77,122.99 428.82,122.99 429.02,123 429.21,123 429.29,123.01 429.53,123.01 429.82,123.02 430,123.02 430.34,123.03 430.63,123.03 430.86,123.04 431.39,123.04 431.57,123.04 431.91,123.05 432.43,123.05 432.75,123.06 432.96,123.06 433.48,123.06 434,123.06 434.53,123.07 435.05,123.07 435.57,123.07 436.1,123.07 436.62,123.07 437.14,123.08 437.67,123.08 438.19,123.08 438.72,123.08 439.24,123.08 439.76,123.08 440.29,123.08 440.81,123.08 441.33,123.08 441.86,123.08 442.38,123.08 442.9,123.08 443.43,123.08 443.95,123.08 444.47,123.08 445,123.08 445.52,123.08 446.04,123.08 446.25,123.08 446.46,116.94 446.5,116.95 446.54,116.95 446.57,116.95 446.62,116.95 446.74,116.96 446.86,116.96 447.05,116.97 447.09,116.97 447.25,116.98 447.56,116.99 447.61,117 448.03,117.01 448.14,117.01 448.66,117.03 449.19,117.04 449.6,117.05 449.71,117.05 450.23,117.06 450.76,117.07 450.78,117.07 451.28,117.08 451.8,117.08 452.33,117.09 452.85,117.09 453.37,117.1 453.9,117.1 454.42,117.1 454.94,117.1 455.47,117.11 455.99,117.11 456.51,117.11 457.04,117.11 457.56,117.11 458.08,117.11 458.61,117.11 459.13,117.11 459.66,117.11 460.18,117.11 460.7,117.11 461.23,117.11 461.75,117.11 462.27,117.11 462.8,117.11 463.32,117.11 463.84,117.11 464.29,117.11 464.37,113.67 464.5,107.93 464.54,107.93 464.58,107.93 464.65,107.94 464.77,107.95 464.89,107.96 465.09,107.98 465.28,107.99 465.41,108 465.6,108.01 465.94,108.03 466.07,108.04 466.46,108.06 466.7,108.07 466.98,108.08 467.51,108.1 467.64,108.1 468.03,108.12 468.55,108.13 468.82,108.14 469.08,108.14 469.6,108.15 470.12,108.16 470.65,108.17 471.17,108.17 471.7,108.18 472.22,108.18 472.74,108.19 473.27,108.19 473.79,108.19 474.31,108.19 474.84,108.2 475.36,108.2 475.88,108.2 476.41,108.2 476.93,108.2 477.45,108.2 477.98,108.2 478.5,108.2 479.02,108.2 479.55,108.2 480.07,108.2 480.6,108.21 481.12,108.21 481.64,108.21 482.17,108.21 482.32,108.21 482.53,96.76 482.57,96.77 482.61,96.77 482.69,96.78 482.81,96.8 482.92,96.81 483.12,96.83 483.21,96.84 483.32,96.85 483.63,96.88 483.74,96.89 484.1,96.92 484.26,96.94 484.73,96.97 484.78,96.97 485.31,97 485.67,97.02 485.83,97.03 486.35,97.05 486.85,97.07 486.88,97.07 487.4,97.09 487.92,97.1 488.45,97.11 488.97,97.12 489.49,97.13 490.02,97.14 490.54,97.14 491.06,97.15 491.59,97.15 492.11,97.15 492.64,97.16 493.16,97.16 493.68,97.16 494.21,97.16 494.73,97.16 495.25,97.17 495.78,97.17 496.3,97.17 496.82,97.17 497.35,97.17 497.87,97.17 498.39,97.17 498.92,97.17 499.44,97.17 499.96,97.17 500.36,97.17 500.49,83.64 500.57,75.51 500.61,75.6 500.65,75.67 500.72,75.82 500.84,76.02 500.96,76.2 501.01,76.27 501.16,76.45 501.35,76.67 501.54,76.85 501.67,76.96 502.06,77.25 502.14,77.3 502.58,77.54 502.77,77.63 503.11,77.78 503.63,77.98 503.71,78 504.15,78.15 504.68,78.3 504.89,78.36 505.2,78.44 505.72,78.57 506.25,78.69 506.77,78.79 507.29,78.89 507.82,78.98 508.34,79.06 508.86,79.14 509.39,79.21 509.91,79.27 510.43,79.33 510.96,79.38 511.48,79.43 512,79.48 512.53,79.52 513.05,79.56 513.58,79.6 514.1,79.63 514.62,79.66 515.15,79.69 515.67,79.71 516.19,79.74 516.72,79.76 517.24,79.78 517.76,79.8 518.29,79.82 518.39,79.82 518.6,42.28 518.64,42.49 518.68,42.69 518.76,43.05 518.81,43.28 518.88,43.55 518.99,44 519.19,44.65 519.33,45.06 519.39,45.2 519.7,45.9 519.86,46.16 520.17,46.46 520.38,46.48 520.8,46.27 520.9,46.2 521.43,46.13 521.74,46.4 521.95,46.66 522.48,47.31 522.92,47.57 523,47.59 523.52,47.7 524.05,47.9 524.57,48 525.09,47.71 525.62,47.09 526.14,46.61 526.66,46.75 527.19,47.5 527.71,48.2 528.23,48.22 528.76,47.9 529.28,47.94 529.8,48.16 530.33,47.8 530.85,47.05 531.37,46.93 531.9,47.53 532.42,47.83 532.95,47.48 533.47,47.22 533.99,47.34 534.52,47.25 535.04,46.86 535.56,46.83 536.09,47.13 536.61,46.9 537.13,46.16 537.66,45.93 538.18,46.35 538.7,46.4 539.23,45.92 539.75,46.07 540.27,47.13 540.8,47.79 541.32,47.25 541.84,46.48 542.37,46.45 542.89,46.76 543.41,46.72" fill="none" stroke="#3050e8" stroke-width="1.0" stroke-linejoin="round" />
<text transform="translate(402.8,128.9) scale(0.93,1)" font-size="7.45" text-anchor="middle" fill="#2a2a2a" stroke="#2a2a2a" stroke-width="0.18" >5%</text>
<text transform="translate(420.7,126.2) scale(0.93,1)" font-size="7.45" text-anchor="middle" fill="#2a2a2a" stroke="#2a2a2a" stroke-width="0.18" >10%</text>
<text transform="translate(439,122.1) scale(0.93,1)" font-size="7.45" text-anchor="middle" fill="#2a2a2a" stroke="#2a2a2a" stroke-width="0.18" >15%</text>
<text transform="translate(456,116.3) scale(0.93,1)" font-size="7.45" text-anchor="middle" fill="#2a2a2a" stroke="#2a2a2a" stroke-width="0.18" >20%</text>
<text transform="translate(474,107.7) scale(0.93,1)" font-size="7.45" text-anchor="middle" fill="#2a2a2a" stroke="#2a2a2a" stroke-width="0.18" >25%</text>
<text transform="translate(492,95) scale(0.93,1)" font-size="7.45" text-anchor="middle" fill="#2a2a2a" stroke="#2a2a2a" stroke-width="0.18" >30%</text>
<text transform="translate(509.5,76) scale(0.93,1)" font-size="7.45" text-anchor="middle" fill="#2a2a2a" stroke="#2a2a2a" stroke-width="0.18" >35%</text>
<text transform="translate(531.6,44.4) scale(0.93,1)" font-size="7.45" text-anchor="middle" fill="#2a2a2a" stroke="#2a2a2a" stroke-width="0.18" >40%</text>
<text transform="translate(394.7,18) scale(0.93,1)" font-size="7.51" text-anchor="start" fill="#2a2a2a" stroke="#2a2a2a" stroke-width="0.18" >Cycle numbers of</text>
<text transform="translate(394.7,26.3) scale(0.93,1)" font-size="7.51" text-anchor="start" fill="#2a2a2a" stroke="#2a2a2a" stroke-width="0.18" >MXene/MWCNTs structure:</text>
<line x1="394.6" y1="32.6" x2="410.5" y2="32.6" stroke="#3050e8" stroke-width="1.0" />
<text transform="translate(412.4,35.3) scale(0.93,1)" font-size="7.51" text-anchor="start" fill="#2a2a2a" stroke="#2a2a2a" stroke-width="0.18" >12</text>
<line x1="394.6" y1="41" x2="410.5" y2="41" stroke="#50b888" stroke-width="1.0" />
<text transform="translate(413.6,43.7) scale(0.93,1)" font-size="7.51" text-anchor="start" fill="#2a2a2a" stroke="#2a2a2a" stroke-width="0.18" >9</text>
<line x1="394.6" y1="49.3" x2="410.5" y2="49.3" stroke="#b040e0" stroke-width="1.0" />
<text transform="translate(413.6,52) scale(0.93,1)" font-size="7.51" text-anchor="start" fill="#2a2a2a" stroke="#2a2a2a" stroke-width="0.18" >6</text>
<line x1="394.6" y1="57.8" x2="410.5" y2="57.8" stroke="#f06870" stroke-width="1.0" />
<text transform="translate(413.6,60.5) scale(0.93,1)" font-size="7.51" text-anchor="start" fill="#2a2a2a" stroke="#2a2a2a" stroke-width="0.18" >3</text>
<text transform="translate(394.7,69.3) scale(0.93,1)" font-size="7.51" text-anchor="start" fill="#2a2a2a" stroke="#2a2a2a" stroke-width="0.18" >Without MXene</text>
<line x1="394.6" y1="75.4" x2="410.5" y2="75.4" stroke="#666666" stroke-width="1.0" />
<text transform="translate(413.6,78.1) scale(0.93,1)" font-size="7.51" text-anchor="start" fill="#2a2a2a" stroke="#2a2a2a" stroke-width="0.18" >6</text>
<rect x="29.6" y="153.8" width="154.2" height="124.9" fill="none" stroke="#808080" stroke-width="1.35"/>
<line x1="45.4" y1="278.7" x2="45.4" y2="281.3" stroke="#808080" stroke-width="1" />
<line x1="76.2" y1="278.7" x2="76.2" y2="281.3" stroke="#808080" stroke-width="1" />
<line x1="107" y1="278.7" x2="107" y2="281.3" stroke="#808080" stroke-width="1" />
<line x1="137.8" y1="278.7" x2="137.8" y2="281.3" stroke="#808080" stroke-width="1" />
<line x1="168.6" y1="278.7" x2="168.6" y2="281.3" stroke="#808080" stroke-width="1" />
<line x1="60.8" y1="278.7" x2="60.8" y2="280.2" stroke="#808080" stroke-width="0.9" />
<line x1="91.6" y1="278.7" x2="91.6" y2="280.2" stroke="#808080" stroke-width="0.9" />
<line x1="122.4" y1="278.7" x2="122.4" y2="280.2" stroke="#808080" stroke-width="0.9" />
<line x1="153.2" y1="278.7" x2="153.2" y2="280.2" stroke="#808080" stroke-width="0.9" />
<line x1="29.6" y1="273.4" x2="27" y2="273.4" stroke="#808080" stroke-width="1" />
<line x1="29.6" y1="253.6" x2="27" y2="253.6" stroke="#808080" stroke-width="1" />
<line x1="29.6" y1="233.8" x2="27" y2="233.8" stroke="#808080" stroke-width="1" />
<line x1="29.6" y1="214" x2="27" y2="214" stroke="#808080" stroke-width="1" />
<line x1="29.6" y1="194.2" x2="27" y2="194.2" stroke="#808080" stroke-width="1" />
<line x1="29.6" y1="174.4" x2="27" y2="174.4" stroke="#808080" stroke-width="1" />
<line x1="29.6" y1="154.6" x2="27" y2="154.6" stroke="#808080" stroke-width="1" />
<line x1="29.6" y1="263.5" x2="28.1" y2="263.5" stroke="#808080" stroke-width="0.9" />
<line x1="29.6" y1="243.7" x2="28.1" y2="243.7" stroke="#808080" stroke-width="0.9" />
<line x1="29.6" y1="223.9" x2="28.1" y2="223.9" stroke="#808080" stroke-width="0.9" />
<line x1="29.6" y1="204.1" x2="28.1" y2="204.1" stroke="#808080" stroke-width="0.9" />
<line x1="29.6" y1="184.3" x2="28.1" y2="184.3" stroke="#808080" stroke-width="0.9" />
<line x1="29.6" y1="164.5" x2="28.1" y2="164.5" stroke="#808080" stroke-width="0.9" />
<text transform="translate(45.4,288.2) scale(0.93,1)" font-size="7.24" text-anchor="middle" fill="#2a2a2a" stroke="#2a2a2a" stroke-width="0.14" >0</text>
<text transform="translate(76.2,288.2) scale(0.93,1)" font-size="7.24" text-anchor="middle" fill="#2a2a2a" stroke="#2a2a2a" stroke-width="0.14" >10</text>
<text transform="translate(107,288.2) scale(0.93,1)" font-size="7.24" text-anchor="middle" fill="#2a2a2a" stroke="#2a2a2a" stroke-width="0.14" >20</text>
<text transform="translate(137.8,288.2) scale(0.93,1)" font-size="7.24" text-anchor="middle" fill="#2a2a2a" stroke="#2a2a2a" stroke-width="0.14" >30</text>
<text transform="translate(168.6,288.2) scale(0.93,1)" font-size="7.24" text-anchor="middle" fill="#2a2a2a" stroke="#2a2a2a" stroke-width="0.14" >40</text>
<text transform="translate(25.7,276.3) scale(0.93,1)" font-size="7.24" text-anchor="end" fill="#2a2a2a" stroke="#2a2a2a" stroke-width="0.14" >0</text>
<text transform="translate(25.7,256.5) scale(0.93,1)" font-size="7.24" text-anchor="end" fill="#2a2a2a" stroke="#2a2a2a" stroke-width="0.14" >20</text>
<text transform="translate(25.7,236.7) scale(0.93,1)" font-size="7.24" text-anchor="end" fill="#2a2a2a" stroke="#2a2a2a" stroke-width="0.14" >40</text>
<text transform="translate(25.7,216.9) scale(0.93,1)" font-size="7.24" text-anchor="end" fill="#2a2a2a" stroke="#2a2a2a" stroke-width="0.14" >60</text>
<text transform="translate(25.7,197.1) scale(0.93,1)" font-size="7.24" text-anchor="end" fill="#2a2a2a" stroke="#2a2a2a" stroke-width="0.14" >80</text>
<text transform="translate(25.7,177.3) scale(0.93,1)" font-size="7.24" text-anchor="end" fill="#2a2a2a" stroke="#2a2a2a" stroke-width="0.14" >100</text>
<text transform="translate(25.7,157.5) scale(0.93,1)" font-size="7.24" text-anchor="end" fill="#2a2a2a" stroke="#2a2a2a" stroke-width="0.14" >120</text>
<text transform="translate(15.6,215) rotate(-90)" font-size="8.0" text-anchor="middle" fill="#2a2a2a">ΔR/R<tspan font-size="5.6" dy="1.76">0</tspan></text>
<text transform="translate(108.5,295.8) scale(0.93,1)" font-size="8.32" text-anchor="middle" fill="#2a2a2a" stroke="#2a2a2a" stroke-width="0.22" >strain (%)</text>
<text x="3.8" y="158.1" font-size="10.4" text-anchor="start" fill="#111" font-weight="bold" >(d)</text>
<polyline points="45.4,273.4 60.8,272.71 76.2,272.01 91.6,270.83 107,269.44 122.4,267.16 137.8,265.97 153.2,263 168.6,259.64" fill="none" stroke="#333333" stroke-width="0.9" stroke-linejoin="round" />
<rect x="43.75" y="271.75" width="3.3" height="3.3" fill="#333333"/>
<rect x="59.15" y="271.06" width="3.3" height="3.3" fill="#333333"/>
<rect x="74.55" y="270.36" width="3.3" height="3.3" fill="#333333"/>
<rect x="89.95" y="269.18" width="3.3" height="3.3" fill="#333333"/>
<rect x="105.35" y="267.79" width="3.3" height="3.3" fill="#333333"/>
<rect x="120.75" y="265.51" width="3.3" height="3.3" fill="#333333"/>
<rect x="136.15" y="264.32" width="3.3" height="3.3" fill="#333333"/>
<rect x="151.55" y="261.36" width="3.3" height="3.3" fill="#333333"/>
<rect x="166.95" y="257.99" width="3.3" height="3.3" fill="#333333"/>
<polyline points="45.4,273.4 60.8,272.9 76.2,271.42 91.6,270.03 107,267.95 122.4,264 137.8,260.83 153.2,255.98 168.6,250.04" fill="none" stroke="#f03a3a" stroke-width="0.9" stroke-linejoin="round" />
<circle cx="45.4" cy="273.4" r="1.65" fill="#f03a3a"/>
<circle cx="60.8" cy="272.9" r="1.65" fill="#f03a3a"/>
<circle cx="76.2" cy="271.42" r="1.65" fill="#f03a3a"/>
<circle cx="91.6" cy="270.03" r="1.65" fill="#f03a3a"/>
<circle cx="107" cy="267.95" r="1.65" fill="#f03a3a"/>
<circle cx="122.4" cy="264" r="1.65" fill="#f03a3a"/>
<circle cx="137.8" cy="260.83" r="1.65" fill="#f03a3a"/>
<circle cx="153.2" cy="255.98" r="1.65" fill="#f03a3a"/>
<circle cx="168.6" cy="250.04" r="1.65" fill="#f03a3a"/>
<polyline points="45.4,273.4 60.8,272.81 76.2,271.02 91.6,268.45 107,264.69 122.4,259.24 137.8,254 153.2,246.47 168.6,236.77" fill="none" stroke="#a020e0" stroke-width="0.9" stroke-linejoin="round" />
<polygon points="45.4,271.34 47.46,274.95 43.34,274.95" fill="#a020e0"/>
<polygon points="60.8,270.74 62.86,274.35 58.74,274.35" fill="#a020e0"/>
<polygon points="76.2,268.96 78.26,272.57 74.14,272.57" fill="#a020e0"/>
<polygon points="91.6,266.39 93.66,270 89.54,270" fill="#a020e0"/>
<polygon points="107,262.63 109.06,266.23 104.94,266.23" fill="#a020e0"/>
<polygon points="122.4,257.18 124.46,260.79 120.34,260.79" fill="#a020e0"/>
<polygon points="137.8,251.93 139.86,255.54 135.74,255.54" fill="#a020e0"/>
<polygon points="153.2,244.41 155.26,248.02 151.14,248.02" fill="#a020e0"/>
<polygon points="168.6,234.71 170.66,238.32 166.54,238.32" fill="#a020e0"/>
<polyline points="45.4,273.4 60.8,272.61 76.2,269.94 91.6,265.97 107,260.53 122.4,252.81 137.8,242.21 153.2,225.88 168.6,189.45" fill="none" stroke="#3cb879" stroke-width="0.9" stroke-linejoin="round" />
<polygon points="45.4,275.46 47.46,271.85 43.34,271.85" fill="#3cb879"/>
<polygon points="60.8,274.67 62.86,271.06 58.74,271.06" fill="#3cb879"/>
<polygon points="76.2,272 78.26,268.39 74.14,268.39" fill="#3cb879"/>
<polygon points="91.6,268.04 93.66,264.43 89.54,264.43" fill="#3cb879"/>
<polygon points="107,262.59 109.06,258.98 104.94,258.98" fill="#3cb879"/>
<polygon points="122.4,254.87 124.46,251.26 120.34,251.26" fill="#3cb879"/>
<polygon points="137.8,244.28 139.86,240.67 135.74,240.67" fill="#3cb879"/>
<polygon points="153.2,227.94 155.26,224.33 151.14,224.33" fill="#3cb879"/>
<polygon points="168.6,191.51 170.66,187.9 166.54,187.9" fill="#3cb879"/>
<polyline points="45.4,273.4 60.8,272.41 76.2,267.66 91.6,262.61 107,255.98 122.4,245.48 137.8,231.52 153.2,210.04 168.6,170.84" fill="none" stroke="#1f3ff0" stroke-width="0.9" stroke-linejoin="round" />
<circle cx="45.4" cy="273.4" r="1.65" fill="#1f3ff0"/>
<circle cx="60.8" cy="272.41" r="1.65" fill="#1f3ff0"/>
<circle cx="76.2" cy="267.66" r="1.65" fill="#1f3ff0"/>
<circle cx="91.6" cy="262.61" r="1.65" fill="#1f3ff0"/>
<circle cx="107" cy="255.98" r="1.65" fill="#1f3ff0"/>
<circle cx="122.4" cy="245.48" r="1.65" fill="#1f3ff0"/>
<circle cx="137.8" cy="231.52" r="1.65" fill="#1f3ff0"/>
<circle cx="153.2" cy="210.04" r="1.65" fill="#1f3ff0"/>
<circle cx="168.6" cy="170.84" r="1.65" fill="#1f3ff0"/>
<text transform="translate(34.3,162.5) scale(0.93,1)" font-size="7.51" text-anchor="start" fill="#2a2a2a" stroke="#2a2a2a" stroke-width="0.18" >Cycle number of</text>
<text transform="translate(34.3,171.2) scale(0.93,1)" font-size="7.51" text-anchor="start" fill="#2a2a2a" stroke="#2a2a2a" stroke-width="0.18" >MXene/MWCNTs structure:</text>
<line x1="34.3" y1="177" x2="50" y2="177" stroke="#1f3ff0" stroke-width="0.9" />
<circle cx="42.2" cy="177" r="1.45" fill="#1f3ff0"/>
<text transform="translate(51.8,179.7) scale(0.93,1)" font-size="7.51" text-anchor="start" fill="#2a2a2a" stroke="#2a2a2a" stroke-width="0.18" >12</text>
<line x1="34.3" y1="185.3" x2="50" y2="185.3" stroke="#3cb879" stroke-width="0.9" />
<polygon points="42.2,187.11 44.01,183.94 40.39,183.94" fill="#3cb879"/>
<text transform="translate(51.8,188) scale(0.93,1)" font-size="7.51" text-anchor="start" fill="#2a2a2a" stroke="#2a2a2a" stroke-width="0.18" >9</text>
<line x1="34.3" y1="194" x2="50" y2="194" stroke="#a020e0" stroke-width="0.9" />
<polygon points="42.2,192.19 44.01,195.36 40.39,195.36" fill="#a020e0"/>
<text transform="translate(51.8,196.7) scale(0.93,1)" font-size="7.51" text-anchor="start" fill="#2a2a2a" stroke="#2a2a2a" stroke-width="0.18" >6</text>
<line x1="34.3" y1="202.7" x2="50" y2="202.7" stroke="#f03a3a" stroke-width="0.9" />
<circle cx="42.2" cy="202.7" r="1.45" fill="#f03a3a"/>
<text transform="translate(51.8,205.4) scale(0.93,1)" font-size="7.51" text-anchor="start" fill="#2a2a2a" stroke="#2a2a2a" stroke-width="0.18" >3</text>
<text transform="translate(34.3,214.7) scale(0.93,1)" font-size="7.51" text-anchor="start" fill="#2a2a2a" stroke="#2a2a2a" stroke-width="0.18" >Without MXene</text>
<line x1="34.3" y1="219.6" x2="50" y2="219.6" stroke="#333333" stroke-width="0.9" />
<rect x="40.9" y="218.3" width="2.6" height="2.6" fill="#333333"/>
<text transform="translate(51.8,222.3) scale(0.93,1)" font-size="7.51" text-anchor="start" fill="#2a2a2a" stroke="#2a2a2a" stroke-width="0.18" >6</text>
<rect x="211.1" y="154" width="153.2" height="124.3" fill="none" stroke="#808080" stroke-width="1.35"/>
<line x1="211.1" y1="278.3" x2="211.1" y2="280.9" stroke="#808080" stroke-width="1" />
<line x1="237.5" y1="278.3" x2="237.5" y2="280.9" stroke="#808080" stroke-width="1" />
<line x1="263.9" y1="278.3" x2="263.9" y2="280.9" stroke="#808080" stroke-width="1" />
<line x1="290.3" y1="278.3" x2="290.3" y2="280.9" stroke="#808080" stroke-width="1" />
<line x1="316.7" y1="278.3" x2="316.7" y2="280.9" stroke="#808080" stroke-width="1" />
<line x1="343.1" y1="278.3" x2="343.1" y2="280.9" stroke="#808080" stroke-width="1" />
<line x1="224.3" y1="278.3" x2="224.3" y2="279.8" stroke="#808080" stroke-width="0.9" />
<line x1="250.7" y1="278.3" x2="250.7" y2="279.8" stroke="#808080" stroke-width="0.9" />
<line x1="277.1" y1="278.3" x2="277.1" y2="279.8" stroke="#808080" stroke-width="0.9" />
<line x1="303.5" y1="278.3" x2="303.5" y2="279.8" stroke="#808080" stroke-width="0.9" />
<line x1="329.9" y1="278.3" x2="329.9" y2="279.8" stroke="#808080" stroke-width="0.9" />
<line x1="356.3" y1="278.3" x2="356.3" y2="279.8" stroke="#808080" stroke-width="0.9" />
<line x1="211.1" y1="275.5" x2="208.5" y2="275.5" stroke="#808080" stroke-width="1" />
<line x1="211.1" y1="255.25" x2="208.5" y2="255.25" stroke="#808080" stroke-width="1" />
<line x1="211.1" y1="235" x2="208.5" y2="235" stroke="#808080" stroke-width="1" />
<line x1="211.1" y1="214.75" x2="208.5" y2="214.75" stroke="#808080" stroke-width="1" />
<line x1="211.1" y1="194.5" x2="208.5" y2="194.5" stroke="#808080" stroke-width="1" />
<line x1="211.1" y1="174.25" x2="208.5" y2="174.25" stroke="#808080" stroke-width="1" />
<line x1="211.1" y1="154" x2="208.5" y2="154" stroke="#808080" stroke-width="1" />
<line x1="211.1" y1="265.38" x2="209.6" y2="265.38" stroke="#808080" stroke-width="0.9" />
<line x1="211.1" y1="245.12" x2="209.6" y2="245.12" stroke="#808080" stroke-width="0.9" />
<line x1="211.1" y1="224.88" x2="209.6" y2="224.88" stroke="#808080" stroke-width="0.9" />
<line x1="211.1" y1="204.62" x2="209.6" y2="204.62" stroke="#808080" stroke-width="0.9" />
<line x1="211.1" y1="184.38" x2="209.6" y2="184.38" stroke="#808080" stroke-width="0.9" />
<line x1="211.1" y1="164.12" x2="209.6" y2="164.12" stroke="#808080" stroke-width="0.9" />
<text transform="translate(211.1,287.8) scale(0.93,1)" font-size="7.24" text-anchor="middle" fill="#2a2a2a" stroke="#2a2a2a" stroke-width="0.14" >0</text>
<text transform="translate(237.5,287.8) scale(0.93,1)" font-size="7.24" text-anchor="middle" fill="#2a2a2a" stroke="#2a2a2a" stroke-width="0.14" >50</text>
<text transform="translate(263.9,287.8) scale(0.93,1)" font-size="7.24" text-anchor="middle" fill="#2a2a2a" stroke="#2a2a2a" stroke-width="0.14" >100</text>
<text transform="translate(290.3,287.8) scale(0.93,1)" font-size="7.24" text-anchor="middle" fill="#2a2a2a" stroke="#2a2a2a" stroke-width="0.14" >150</text>
<text transform="translate(316.7,287.8) scale(0.93,1)" font-size="7.24" text-anchor="middle" fill="#2a2a2a" stroke="#2a2a2a" stroke-width="0.14" >200</text>
<text transform="translate(343.1,287.8) scale(0.93,1)" font-size="7.24" text-anchor="middle" fill="#2a2a2a" stroke="#2a2a2a" stroke-width="0.14" >250</text>
<text transform="translate(207.2,278.4) scale(0.93,1)" font-size="7.24" text-anchor="end" fill="#2a2a2a" stroke="#2a2a2a" stroke-width="0.14" >0</text>
<text transform="translate(207.2,258.15) scale(0.93,1)" font-size="7.24" text-anchor="end" fill="#2a2a2a" stroke="#2a2a2a" stroke-width="0.14" >50</text>
<text transform="translate(207.2,237.9) scale(0.93,1)" font-size="7.24" text-anchor="end" fill="#2a2a2a" stroke="#2a2a2a" stroke-width="0.14" >100</text>
<text transform="translate(207.2,217.65) scale(0.93,1)" font-size="7.24" text-anchor="end" fill="#2a2a2a" stroke="#2a2a2a" stroke-width="0.14" >150</text>
<text transform="translate(207.2,197.4) scale(0.93,1)" font-size="7.24" text-anchor="end" fill="#2a2a2a" stroke="#2a2a2a" stroke-width="0.14" >200</text>
<text transform="translate(207.2,177.15) scale(0.93,1)" font-size="7.24" text-anchor="end" fill="#2a2a2a" stroke="#2a2a2a" stroke-width="0.14" >250</text>
<text transform="translate(207.2,156.9) scale(0.93,1)" font-size="7.24" text-anchor="end" fill="#2a2a2a" stroke="#2a2a2a" stroke-width="0.14" >300</text>
<text transform="translate(196.4,214.2) rotate(-90)" font-size="8.3" text-anchor="middle" fill="#2a2a2a">ΔR/R<tspan font-size="5.81" dy="1.83">0</tspan></text>
<text transform="translate(287.6,294.9) scale(0.93,1)" font-size="8.32" text-anchor="middle" fill="#2a2a2a" stroke="#2a2a2a" stroke-width="0.38" >time (s)</text>
<text x="184.6" y="158.1" font-size="10.4" text-anchor="start" fill="#111" font-weight="bold" >(e)</text>
<polyline points="211.1,275.5 211.52,275.5 211.63,275.39 211.73,275.28 211.77,275.28 211.81,275.28 211.89,275.28 212.01,275.28 212.13,275.28 212.16,275.28 212.33,275.29 212.53,275.29 212.68,275.29 212.84,275.29 213.21,275.29 213.32,275.29 213.74,275.29 213.95,275.29 214.27,275.29 214.8,275.29 214.9,275.29 215.32,275.29 215.85,275.3 216.09,275.3 216.38,275.3 216.91,275.3 217.44,275.3 217.96,275.3 218.49,275.3 219.02,275.3 219.55,275.3 220.08,275.3 220.6,275.3 221.13,275.3 221.66,275.3 222.19,275.3 222.72,275.3 223.24,275.3 223.77,275.3 224.3,275.3 224.83,275.3 225.36,275.3 225.88,275.3 226.41,275.3 226.94,275.3 227.47,275.3 228,275.3 228.52,275.3 229.05,275.3 229.58,275.3 230.11,275.3 230.21,275.3 230.42,275.06 230.46,275.06 230.5,275.06 230.58,275.06 230.64,275.07 230.7,275.07 230.82,275.07 231.02,275.07 231.16,275.07 231.22,275.07 231.53,275.08 231.69,275.08 232.01,275.08 232.22,275.08 232.64,275.08 232.75,275.08 233.28,275.09 233.59,275.09 233.8,275.09 234.33,275.09 234.78,275.09 234.86,275.09 235.39,275.09 235.92,275.09 236.44,275.09 236.97,275.09 237.5,275.09 238.03,275.09 238.56,275.09 239.08,275.09 239.61,275.09 240.14,275.09 240.67,275.09 241.2,275.09 241.72,275.09 242.25,275.09 242.78,275.09 243.31,275.09 243.84,275.09 244.36,275.09 244.89,275.09 245.42,275.09 245.95,275.09 246.48,275.09 247,275.09 247.53,275.09 248.06,275.09 248.32,275.09 248.54,274.76 248.57,274.76 248.59,274.76 248.61,274.76 248.69,274.76 248.81,274.76 248.93,274.77 249.12,274.77 249.13,274.77 249.33,274.77 249.64,274.78 250.12,274.79 250.17,274.79 250.7,274.79 250.75,274.79 251.23,274.8 251.7,274.8 251.76,274.8 252.28,274.8 252.81,274.8 252.89,274.8 253.34,274.81 253.87,274.81 254.4,274.81 254.92,274.81 255.45,274.81 255.98,274.81 256.51,274.81 257.04,274.81 257.56,274.81 258.09,274.81 258.62,274.81 259.15,274.81 259.68,274.81 260.2,274.81 260.73,274.81 261.26,274.81 261.79,274.81 262.32,274.81 262.84,274.81 263.37,274.81 263.9,274.81 264.43,274.81 264.96,274.81 265.48,274.81 266.01,274.81 266.54,274.81 266.54,274.81 266.75,274.28 266.79,274.28 266.83,274.28 266.91,274.28 267.03,274.29 267.07,274.29 267.15,274.29 267.35,274.3 267.54,274.3 267.6,274.31 267.86,274.31 268.12,274.32 268.34,274.32 268.65,274.33 268.97,274.33 269.18,274.34 269.71,274.34 269.92,274.35 270.24,274.35 270.76,274.35 271.11,274.35 271.29,274.36 271.82,274.36 272.35,274.36 272.88,274.36 273.4,274.36 273.93,274.36 274.46,274.36 274.99,274.36 275.52,274.36 276.04,274.36 276.57,274.37 277.1,274.37 277.63,274.37 278.16,274.37 278.68,274.37 279.21,274.37 279.74,274.37 280.27,274.37 280.8,274.37 281.32,274.37 281.85,274.37 282.38,274.37 282.91,274.37 283.44,274.37 283.96,274.37 284.49,274.37 284.91,274.37 285.02,273.95 285.13,273.53 285.17,273.53 285.2,273.54 285.28,273.54 285.4,273.55 285.52,273.56 285.55,273.56 285.72,273.57 285.92,273.58 286.08,273.58 286.23,273.59 286.6,273.61 286.71,273.61 287.13,273.62 287.34,273.63 287.66,273.63 288.19,273.64 288.29,273.64 288.72,273.65 289.24,273.66 289.48,273.66 289.77,273.66 290.3,273.66 290.83,273.67 291.36,273.67 291.88,273.67 292.41,273.67 292.94,273.67 293.47,273.67 294,273.68 294.52,273.68 295.05,273.68 295.58,273.68 296.11,273.68 296.64,273.68 297.16,273.68 297.69,273.68 298.22,273.68 298.75,273.68 299.28,273.68 299.8,273.68 300.33,273.68 300.86,273.68 301.39,273.68 301.92,273.68 302.44,273.68 302.6,273.68 302.81,272.7 302.85,272.7 302.89,272.71 302.97,272.72 303.09,272.73 303.21,272.74 303.41,272.75 303.5,272.76 303.61,272.77 303.92,272.79 304.03,272.79 304.4,272.81 304.56,272.82 305.03,272.84 305.08,272.84 305.61,272.85 305.98,272.86 306.14,272.87 306.67,272.87 307.17,272.88 307.2,272.88 307.72,272.89 308.25,272.89 308.78,272.9 309.31,272.9 309.84,272.9 310.36,272.9 310.89,272.9 311.42,272.9 311.95,272.91 312.48,272.91 313,272.91 313.53,272.91 314.06,272.91 314.59,272.91 315.12,272.91 315.64,272.91 316.17,272.91 316.7,272.91 317.23,272.91 317.76,272.91 318.28,272.91 318.81,272.91 319.34,272.91 319.87,272.91 320.4,272.91 320.92,272.91 320.98,272.91 321.19,271.3 321.23,271.31 321.27,271.31 321.35,271.32 321.45,271.34 321.47,271.34 321.58,271.35 321.78,271.38 321.98,271.4 322.3,271.43 322.51,271.45 322.77,271.47 323.04,271.48 323.41,271.5 323.56,271.51 324.09,271.53 324.36,271.54 324.62,271.55 325.15,271.56 325.54,271.57 325.68,271.57 326.2,271.58 326.73,271.59 327.26,271.59 327.79,271.6 328.32,271.6 328.84,271.6 329.37,271.61 329.9,271.61 330.43,271.61 330.96,271.61 331.48,271.61 332.01,271.61 332.54,271.61 333.07,271.61 333.6,271.61 334.12,271.61 334.65,271.61 335.18,271.61 335.71,271.61 336.24,271.61 336.76,271.61 337.29,271.61 337.82,271.61 338.35,271.61 338.88,271.61 338.98,271.61 339.19,269.73 339.23,269.73 339.27,269.74 339.35,269.76 339.4,269.77 339.47,269.78 339.59,269.8 339.79,269.83 339.93,269.85 339.98,269.86 340.3,269.9 340.46,269.92 340.78,269.95 340.99,269.97 341.41,270 341.52,270.01 342.04,270.04 342.36,270.06 342.57,270.07 343.1,270.09 343.55,270.1 343.63,270.1 344.16,270.11 344.68,270.12 345.21,270.13 345.74,270.13 346.27,270.14 346.8,270.14 347.32,270.14 347.85,270.15 348.38,270.15 348.91,270.15 349.44,270.15 349.96,270.15 350.49,270.15 351.02,270.15 351.55,270.15 352.08,270.15 352.6,270.15 353.13,270.15 353.66,270.15 354.19,270.15 354.72,270.15 355.24,270.15 355.77,270.15 356.3,270.15 356.83,270.15 357.36,270.15 357.88,270.15 358.41,270.15 358.94,270.15 359.47,270.15 360,270.15 360.52,270.15 361.05,270.15 361.58,270.15 362.11,270.15 362.64,270.15 363.16,270.15 363.69,270.15 364.22,270.15" fill="none" stroke="#444444" stroke-width="1.0" stroke-linejoin="round" />
<polyline points="211.1,275.5 211.52,275.5 211.63,275.33 211.73,275.15 211.77,275.15 211.81,275.15 211.89,275.15 212.01,275.15 212.13,275.15 212.16,275.15 212.33,275.16 212.53,275.16 212.68,275.16 212.84,275.16 213.21,275.16 213.32,275.16 213.74,275.17 213.95,275.17 214.27,275.17 214.8,275.17 214.9,275.17 215.32,275.17 215.85,275.17 216.09,275.17 216.38,275.17 216.91,275.17 217.44,275.17 217.96,275.17 218.49,275.17 219.02,275.18 219.55,275.18 220.08,275.18 220.6,275.18 221.13,275.18 221.66,275.18 222.19,275.18 222.72,275.18 223.24,275.18 223.77,275.18 224.3,275.18 224.83,275.18 225.36,275.18 225.88,275.18 226.41,275.18 226.94,275.18 227.47,275.18 228,275.18 228.52,275.18 229.05,275.18 229.58,275.18 230.11,275.18 230.21,275.18 230.42,274.28 230.46,274.28 230.5,274.28 230.58,274.28 230.64,274.28 230.7,274.29 230.82,274.29 231.02,274.3 231.16,274.3 231.22,274.3 231.53,274.31 231.69,274.32 232.01,274.32 232.22,274.33 232.64,274.33 232.75,274.34 233.28,274.34 233.59,274.35 233.8,274.35 234.33,274.35 234.78,274.35 234.86,274.35 235.39,274.36 235.92,274.36 236.44,274.36 236.97,274.36 237.5,274.36 238.03,274.36 238.56,274.36 239.08,274.36 239.61,274.36 240.14,274.37 240.67,274.37 241.2,274.37 241.72,274.37 242.25,274.37 242.78,274.37 243.31,274.37 243.84,274.37 244.36,274.37 244.89,274.37 245.42,274.37 245.95,274.37 246.48,274.37 247,274.37 247.53,274.37 248.06,274.37 248.32,274.37 248.54,273.31 248.57,273.32 248.59,273.32 248.61,273.32 248.69,273.32 248.81,273.33 248.93,273.34 249.12,273.35 249.13,273.35 249.33,273.36 249.64,273.38 250.12,273.4 250.17,273.4 250.7,273.42 250.75,273.42 251.23,273.43 251.7,273.44 251.76,273.44 252.28,273.45 252.81,273.45 252.89,273.45 253.34,273.46 253.87,273.46 254.4,273.46 254.92,273.47 255.45,273.47 255.98,273.47 256.51,273.47 257.04,273.47 257.56,273.47 258.09,273.47 258.62,273.47 259.15,273.47 259.68,273.47 260.2,273.47 260.73,273.47 261.26,273.47 261.79,273.47 262.32,273.47 262.84,273.47 263.37,273.47 263.9,273.47 264.43,273.47 264.96,273.47 265.48,273.47 266.01,273.47 266.54,273.47 266.54,273.47 266.75,272 266.79,272.01 266.83,272.01 266.91,272.02 267.03,272.03 267.07,272.04 267.15,272.05 267.35,272.06 267.54,272.08 267.6,272.09 267.86,272.11 268.12,272.12 268.34,272.14 268.65,272.15 268.97,272.17 269.18,272.18 269.71,272.2 269.92,272.2 270.24,272.21 270.76,272.22 271.11,272.23 271.29,272.23 271.82,272.24 272.35,272.24 272.88,272.25 273.4,272.25 273.93,272.25 274.46,272.25 274.99,272.25 275.52,272.26 276.04,272.26 276.57,272.26 277.1,272.26 277.63,272.26 278.16,272.26 278.68,272.26 279.21,272.26 279.74,272.26 280.27,272.26 280.8,272.26 281.32,272.26 281.85,272.26 282.38,272.26 282.91,272.26 283.44,272.26 283.96,272.26 284.49,272.26 284.91,272.26 285.02,270.82 285.13,269.38 285.17,269.38 285.2,269.39 285.28,269.41 285.4,269.43 285.52,269.45 285.55,269.46 285.72,269.49 285.92,269.52 286.08,269.54 286.23,269.56 286.6,269.6 286.71,269.62 287.13,269.65 287.34,269.67 287.66,269.69 288.19,269.72 288.29,269.73 288.72,269.75 289.24,269.77 289.48,269.77 289.77,269.78 290.3,269.79 290.83,269.8 291.36,269.81 291.88,269.81 292.41,269.82 292.94,269.82 293.47,269.82 294,269.82 294.52,269.82 295.05,269.83 295.58,269.83 296.11,269.83 296.64,269.83 297.16,269.83 297.69,269.83 298.22,269.83 298.75,269.83 299.28,269.83 299.8,269.83 300.33,269.83 300.86,269.83 301.39,269.83 301.92,269.83 302.44,269.83 302.6,269.83 302.81,266.1 302.85,266.11 302.89,266.12 302.97,266.15 303.09,266.18 303.21,266.21 303.41,266.27 303.5,266.29 303.61,266.31 303.92,266.38 304.03,266.4 304.4,266.46 304.56,266.49 305.03,266.55 305.08,266.55 305.61,266.61 305.98,266.64 306.14,266.65 306.67,266.68 307.17,266.7 307.2,266.71 307.72,266.72 308.25,266.74 308.78,266.75 309.31,266.76 309.84,266.77 310.36,266.77 310.89,266.78 311.42,266.78 311.95,266.78 312.48,266.79 313,266.79 313.53,266.79 314.06,266.79 314.59,266.79 315.12,266.79 315.64,266.79 316.17,266.79 316.7,266.79 317.23,266.79 317.76,266.79 318.28,266.79 318.81,266.79 319.34,266.79 319.87,266.79 320.4,266.79 320.92,266.79 320.98,266.79 321.19,261.07 321.23,261.09 321.27,261.11 321.35,261.14 321.45,261.19 321.47,261.2 321.58,261.25 321.78,261.33 321.98,261.4 322.3,261.5 322.51,261.56 322.77,261.63 323.04,261.69 323.41,261.76 323.56,261.79 324.09,261.86 324.36,261.9 324.62,261.92 325.15,261.97 325.54,262 325.68,262.01 326.2,262.04 326.73,262.06 327.26,262.07 327.79,262.09 328.32,262.1 328.84,262.11 329.37,262.11 329.9,262.12 330.43,262.12 330.96,262.12 331.48,262.13 332.01,262.13 332.54,262.13 333.07,262.13 333.6,262.13 334.12,262.13 334.65,262.13 335.18,262.13 335.71,262.13 336.24,262.13 336.76,262.13 337.29,262.13 337.82,262.13 338.35,262.13 338.88,262.13 338.98,262.13 339.19,252.97 339.23,253 339.27,253.04 339.35,253.09 339.4,253.13 339.47,253.18 339.59,253.26 339.79,253.38 339.93,253.47 339.98,253.5 340.3,253.66 340.46,253.73 340.78,253.85 340.99,253.93 341.41,254.06 341.52,254.09 342.04,254.21 342.36,254.27 342.57,254.31 343.1,254.38 343.55,254.43 343.63,254.44 344.16,254.48 344.68,254.52 345.21,254.55 345.74,254.57 346.27,254.58 346.8,254.6 347.32,254.61 347.85,254.61 348.38,254.62 348.91,254.63 349.44,254.63 349.96,254.63 350.49,254.63 351.02,254.64 351.55,254.64 352.08,254.64 352.6,254.64 353.13,254.64 353.66,254.64 354.19,254.64 354.72,254.64 355.24,254.64 355.77,254.64 356.3,254.64 356.83,254.64 357.36,254.64 357.88,254.64 358.41,254.64 358.94,254.64 359.47,254.64 360,254.64 360.52,254.64 361.05,254.64 361.58,254.64 362.11,254.64 362.64,254.64 363.16,254.64 363.69,254.64 364.22,254.64" fill="none" stroke="#f04a50" stroke-width="1.0" stroke-linejoin="round" />
<polyline points="211.1,275.5 211.52,275.5 211.63,275.24 211.73,274.98 211.77,274.98 211.81,274.98 211.89,274.98 212.01,274.98 212.13,274.98 212.16,274.98 212.33,274.98 212.53,274.99 212.68,274.99 212.84,274.99 213.21,274.99 213.32,275 213.74,275 213.95,275 214.27,275 214.8,275 214.9,275.01 215.32,275.01 215.85,275.01 216.09,275.01 216.38,275.01 216.91,275.01 217.44,275.01 217.96,275.01 218.49,275.01 219.02,275.01 219.55,275.01 220.08,275.01 220.6,275.01 221.13,275.01 221.66,275.01 222.19,275.01 222.72,275.01 223.24,275.01 223.77,275.01 224.3,275.01 224.83,275.01 225.36,275.01 225.88,275.01 226.41,275.01 226.94,275.01 227.47,275.01 228,275.01 228.52,275.01 229.05,275.01 229.58,275.01 230.11,275.01 230.21,275.01 230.42,273.97 230.46,273.97 230.5,273.97 230.58,273.98 230.64,273.98 230.7,273.98 230.82,273.99 231.02,274 231.16,274 231.22,274 231.53,274.02 231.69,274.02 232.01,274.03 232.22,274.03 232.64,274.04 232.75,274.04 233.28,274.05 233.59,274.06 233.8,274.06 234.33,274.06 234.78,274.07 234.86,274.07 235.39,274.07 235.92,274.07 236.44,274.08 236.97,274.08 237.5,274.08 238.03,274.08 238.56,274.08 239.08,274.08 239.61,274.08 240.14,274.08 240.67,274.08 241.2,274.08 241.72,274.08 242.25,274.08 242.78,274.08 243.31,274.08 243.84,274.08 244.36,274.08 244.89,274.08 245.42,274.08 245.95,274.08 246.48,274.08 247,274.08 247.53,274.08 248.06,274.08 248.32,274.08 248.54,272 248.57,272.01 248.59,272.01 248.61,272.01 248.69,272.02 248.81,272.03 248.93,272.05 249.12,272.06 249.13,272.06 249.33,272.08 249.64,272.11 250.12,272.14 250.17,272.14 250.7,272.17 250.75,272.17 251.23,272.19 251.7,272.2 251.76,272.2 252.28,272.22 252.81,272.23 252.89,272.23 253.34,272.23 253.87,272.24 254.4,272.24 254.92,272.25 255.45,272.25 255.98,272.25 256.51,272.25 257.04,272.26 257.56,272.26 258.09,272.26 258.62,272.26 259.15,272.26 259.68,272.26 260.2,272.26 260.73,272.26 261.26,272.26 261.79,272.26 262.32,272.26 262.84,272.26 263.37,272.26 263.9,272.26 264.43,272.26 264.96,272.26 265.48,272.26 266.01,272.26 266.54,272.26 266.54,272.26 266.75,268.72 266.79,268.73 266.83,268.74 266.91,268.76 267.03,268.78 267.07,268.79 267.15,268.81 267.35,268.84 267.54,268.88 267.6,268.89 267.86,268.93 268.12,268.96 268.34,268.99 268.65,269.02 268.97,269.05 269.18,269.06 269.71,269.1 269.92,269.11 270.24,269.13 270.76,269.15 271.11,269.16 271.29,269.16 271.82,269.18 272.35,269.19 272.88,269.19 273.4,269.2 273.93,269.21 274.46,269.21 274.99,269.21 275.52,269.21 276.04,269.22 276.57,269.22 277.1,269.22 277.63,269.22 278.16,269.22 278.68,269.22 279.21,269.22 279.74,269.22 280.27,269.22 280.8,269.22 281.32,269.22 281.85,269.22 282.38,269.22 282.91,269.22 283.44,269.22 283.96,269.22 284.49,269.22 284.91,269.22 285.02,266.35 285.13,263.47 285.17,263.49 285.2,263.5 285.28,263.54 285.4,263.58 285.52,263.62 285.55,263.63 285.72,263.69 285.92,263.75 286.08,263.79 286.23,263.84 286.6,263.92 286.71,263.94 287.13,264.02 287.34,264.05 287.66,264.09 288.19,264.15 288.29,264.16 288.72,264.2 289.24,264.24 289.48,264.25 289.77,264.26 290.3,264.29 290.83,264.3 291.36,264.32 291.88,264.33 292.41,264.33 292.94,264.34 293.47,264.35 294,264.35 294.52,264.35 295.05,264.35 295.58,264.36 296.11,264.36 296.64,264.36 297.16,264.36 297.69,264.36 298.22,264.36 298.75,264.36 299.28,264.36 299.8,264.36 300.33,264.36 300.86,264.36 301.39,264.36 301.92,264.36 302.44,264.36 302.6,264.36 302.81,256.91 302.85,256.94 302.89,256.96 302.97,257.01 303.09,257.08 303.21,257.15 303.41,257.25 303.5,257.29 303.61,257.34 303.92,257.47 304.03,257.51 304.4,257.64 304.56,257.68 305.03,257.81 305.08,257.82 305.61,257.92 305.98,257.98 306.14,258 306.67,258.07 307.17,258.11 307.2,258.11 307.72,258.15 308.25,258.18 308.78,258.21 309.31,258.22 309.84,258.24 310.36,258.25 310.89,258.26 311.42,258.26 311.95,258.27 312.48,258.27 313,258.28 313.53,258.28 314.06,258.28 314.59,258.28 315.12,258.28 315.64,258.28 316.17,258.29 316.7,258.29 317.23,258.29 317.76,258.29 318.28,258.29 318.81,258.29 319.34,258.29 319.87,258.29 320.4,258.29 320.92,258.29 320.98,258.29 321.19,247.07 321.23,247.11 321.27,247.15 321.35,247.22 321.45,247.32 321.47,247.33 321.58,247.43 321.78,247.59 321.98,247.73 322.3,247.93 322.51,248.05 322.77,248.18 323.04,248.3 323.41,248.44 323.56,248.49 324.09,248.64 324.36,248.71 324.62,248.76 325.15,248.85 325.54,248.91 325.68,248.92 326.2,248.98 326.73,249.02 327.26,249.06 327.79,249.08 328.32,249.1 328.84,249.12 329.37,249.13 329.9,249.14 330.43,249.15 330.96,249.15 331.48,249.16 332.01,249.16 332.54,249.17 333.07,249.17 333.6,249.17 334.12,249.17 334.65,249.17 335.18,249.17 335.71,249.17 336.24,249.17 336.76,249.17 337.29,249.17 337.82,249.17 338.35,249.17 338.88,249.17 338.98,249.17 339.19,234.14 339.23,234.15 339.27,234.16 339.35,234.17 339.4,234.18 339.47,234.2 339.59,234.22 339.79,234.24 339.93,234.25 339.98,234.26 340.3,234.23 340.46,234.2 340.78,234.07 340.99,233.95 341.41,233.65 341.52,233.57 342.04,233.24 342.36,233.14 342.57,233.11 343.1,233.19 343.55,233.31 343.63,233.33 344.16,233.39 344.68,233.36 345.21,233.34 345.74,233.48 346.27,233.76 346.8,234.02 347.32,234.11 347.85,234.03 348.38,233.95 348.91,234.03 349.44,234.24 349.96,234.4 350.49,234.29 351.02,233.92 351.55,233.55 352.08,233.46 352.6,233.72 353.13,234.12 353.66,234.33 354.19,234.2 354.72,233.85 355.24,233.57 355.77,233.5 356.3,233.55 356.83,233.49 357.36,233.23 357.88,232.94 358.41,232.89 358.94,233.21 359.47,233.74 360,234.13 360.52,234.18 361.05,233.97 361.58,233.8 362.11,233.89 362.64,234.18 363.16,234.44 363.69,234.42 364.22,234.16" fill="none" stroke="#3a70e0" stroke-width="1.0" stroke-linejoin="round" />
<polyline points="211.1,275.5 211.52,275.5 211.63,275.17 211.73,274.84 211.77,274.84 211.81,274.85 211.89,274.85 212.01,274.85 212.13,274.85 212.16,274.85 212.33,274.86 212.53,274.86 212.68,274.86 212.84,274.86 213.21,274.87 213.32,274.87 213.74,274.87 213.95,274.88 214.27,274.88 214.8,274.88 214.9,274.88 215.32,274.88 215.85,274.89 216.09,274.89 216.38,274.89 216.91,274.89 217.44,274.89 217.96,274.89 218.49,274.89 219.02,274.89 219.55,274.89 220.08,274.89 220.6,274.89 221.13,274.89 221.66,274.89 222.19,274.89 222.72,274.89 223.24,274.89 223.77,274.89 224.3,274.89 224.83,274.89 225.36,274.89 225.88,274.89 226.41,274.89 226.94,274.89 227.47,274.89 228,274.89 228.52,274.89 229.05,274.89 229.58,274.89 230.11,274.89 230.21,274.89 230.42,273.75 230.46,273.75 230.5,273.76 230.58,273.76 230.64,273.76 230.7,273.77 230.82,273.77 231.02,273.78 231.16,273.79 231.22,273.79 231.53,273.8 231.69,273.81 232.01,273.82 232.22,273.82 232.64,273.83 232.75,273.84 233.28,273.85 233.59,273.85 233.8,273.85 234.33,273.86 234.78,273.86 234.86,273.86 235.39,273.87 235.92,273.87 236.44,273.87 236.97,273.87 237.5,273.88 238.03,273.88 238.56,273.88 239.08,273.88 239.61,273.88 240.14,273.88 240.67,273.88 241.2,273.88 241.72,273.88 242.25,273.88 242.78,273.88 243.31,273.88 243.84,273.88 244.36,273.88 244.89,273.88 245.42,273.88 245.95,273.88 246.48,273.88 247,273.88 247.53,273.88 248.06,273.88 248.32,273.88 248.54,271.3 248.57,271.31 248.59,271.31 248.61,271.31 248.69,271.32 248.81,271.34 248.93,271.35 249.12,271.38 249.13,271.38 249.33,271.4 249.64,271.43 250.12,271.47 250.17,271.47 250.7,271.5 250.75,271.5 251.23,271.53 251.7,271.54 251.76,271.54 252.28,271.56 252.81,271.57 252.89,271.57 253.34,271.58 253.87,271.59 254.4,271.59 254.92,271.6 255.45,271.6 255.98,271.6 256.51,271.6 257.04,271.61 257.56,271.61 258.09,271.61 258.62,271.61 259.15,271.61 259.68,271.61 260.2,271.61 260.73,271.61 261.26,271.61 261.79,271.61 262.32,271.61 262.84,271.61 263.37,271.61 263.9,271.61 264.43,271.61 264.96,271.61 265.48,271.61 266.01,271.61 266.54,271.61 266.54,271.61 266.75,267.85 266.79,267.86 266.83,267.87 266.91,267.89 267.03,267.92 267.07,267.92 267.15,267.94 267.35,267.98 267.54,268.02 267.6,268.03 267.86,268.08 268.12,268.12 268.34,268.14 268.65,268.18 268.97,268.21 269.18,268.23 269.71,268.27 269.92,268.29 270.24,268.3 270.76,268.33 271.11,268.34 271.29,268.35 271.82,268.36 272.35,268.37 272.88,268.38 273.4,268.39 273.93,268.39 274.46,268.4 274.99,268.4 275.52,268.4 276.04,268.41 276.57,268.41 277.1,268.41 277.63,268.41 278.16,268.41 278.68,268.41 279.21,268.41 279.74,268.41 280.27,268.41 280.8,268.41 281.32,268.41 281.85,268.41 282.38,268.41 282.91,268.41 283.44,268.41 283.96,268.41 284.49,268.41 284.91,268.41 285.02,265.72 285.13,263.03 285.17,263.05 285.2,263.07 285.28,263.1 285.4,263.15 285.52,263.19 285.55,263.2 285.72,263.26 285.92,263.32 286.08,263.37 286.23,263.41 286.6,263.5 286.71,263.52 287.13,263.6 287.34,263.63 287.66,263.68 288.19,263.74 288.29,263.75 288.72,263.79 289.24,263.83 289.48,263.84 289.77,263.86 290.3,263.88 290.83,263.9 291.36,263.91 291.88,263.92 292.41,263.93 292.94,263.93 293.47,263.94 294,263.94 294.52,263.95 295.05,263.95 295.58,263.95 296.11,263.95 296.64,263.95 297.16,263.95 297.69,263.96 298.22,263.96 298.75,263.96 299.28,263.96 299.8,263.96 300.33,263.96 300.86,263.96 301.39,263.96 301.92,263.96 302.44,263.96 302.6,263.96 302.81,255.16 302.85,255.19 302.89,255.22 302.97,255.27 303.09,255.35 303.21,255.42 303.41,255.53 303.5,255.58 303.61,255.63 303.92,255.78 304.03,255.82 304.4,255.96 304.56,256.01 305.03,256.14 305.08,256.15 305.61,256.27 305.98,256.33 306.14,256.36 306.67,256.42 307.17,256.48 307.2,256.48 307.72,256.52 308.25,256.55 308.78,256.58 309.31,256.6 309.84,256.61 310.36,256.63 310.89,256.63 311.42,256.64 311.95,256.65 312.48,256.65 313,256.66 313.53,256.66 314.06,256.66 314.59,256.66 315.12,256.66 315.64,256.66 316.17,256.66 316.7,256.67 317.23,256.67 317.76,256.67 318.28,256.67 318.81,256.67 319.34,256.67 319.87,256.67 320.4,256.67 320.92,256.67 320.98,256.67 321.19,238.54 321.23,238.59 321.27,238.64 321.35,238.74 321.45,238.86 321.47,238.88 321.58,239.01 321.78,239.21 321.98,239.4 322.3,239.66 322.51,239.81 322.77,239.98 323.04,240.14 323.41,240.32 323.56,240.39 324.09,240.59 324.36,240.67 324.62,240.74 325.15,240.86 325.54,240.93 325.68,240.95 326.2,241.02 326.73,241.08 327.26,241.12 327.79,241.16 328.32,241.18 328.84,241.2 329.37,241.22 329.9,241.23 330.43,241.24 330.96,241.25 331.48,241.26 332.01,241.26 332.54,241.26 333.07,241.27 333.6,241.27 334.12,241.27 334.65,241.27 335.18,241.27 335.71,241.27 336.24,241.28 336.76,241.28 337.29,241.28 337.82,241.28 338.35,241.28 338.88,241.28 338.98,241.28 339.19,199.14 339.23,199.56 339.27,199.98 339.35,200.76 339.4,201.26 339.47,201.85 339.59,202.84 339.79,204.28 339.93,205.21 339.98,205.52 340.3,207.14 340.46,207.81 340.78,208.95 340.99,209.57 341.41,210.59 341.52,210.8 342.04,211.69 342.36,212.11 342.57,212.35 343.1,212.84 343.55,213.16 343.63,213.21 344.16,213.5 344.68,213.74 345.21,213.95 345.74,214.15 346.27,214.36 346.8,214.57 347.32,214.77 347.85,214.96 348.38,215.11 348.91,215.24 349.44,215.33 349.96,215.4 350.49,215.46 351.02,215.53 351.55,215.63 352.08,215.75 352.6,215.89 353.13,216.05 353.66,216.21 354.19,216.36 354.72,216.49 355.24,216.6 355.77,216.69 356.3,216.77 356.83,216.83 357.36,216.88 357.88,216.92 358.41,216.94 358.94,216.94 359.47,216.92 360,216.88 360.52,216.85 361.05,216.81 361.58,216.8 362.11,216.81 362.64,216.84 363.16,216.89 363.69,216.95 364.22,217.01" fill="none" stroke="#3cb07a" stroke-width="1.0" stroke-linejoin="round" />
<polyline points="211.1,275.5 211.52,275.5 211.63,274.95 211.73,274.41 211.77,274.41 211.81,274.41 211.89,274.41 212.01,274.42 212.13,274.42 212.16,274.42 212.33,274.43 212.53,274.43 212.68,274.44 212.84,274.44 213.21,274.45 213.32,274.45 213.74,274.46 213.95,274.46 214.27,274.46 214.8,274.47 214.9,274.47 215.32,274.47 215.85,274.48 216.09,274.48 216.38,274.48 216.91,274.48 217.44,274.48 217.96,274.48 218.49,274.48 219.02,274.48 219.55,274.49 220.08,274.49 220.6,274.49 221.13,274.49 221.66,274.49 222.19,274.49 222.72,274.49 223.24,274.49 223.77,274.49 224.3,274.49 224.83,274.49 225.36,274.49 225.88,274.49 226.41,274.49 226.94,274.49 227.47,274.49 228,274.49 228.52,274.49 229.05,274.49 229.58,274.49 230.11,274.49 230.21,274.49 230.42,272.22 230.46,272.22 230.5,272.23 230.58,272.24 230.64,272.24 230.7,272.25 230.82,272.26 231.02,272.28 231.16,272.29 231.22,272.3 231.53,272.32 231.69,272.33 232.01,272.35 232.22,272.36 232.64,272.38 232.75,272.38 233.28,272.4 233.59,272.41 233.8,272.41 234.33,272.42 234.78,272.43 234.86,272.43 235.39,272.44 235.92,272.44 236.44,272.45 236.97,272.45 237.5,272.45 238.03,272.46 238.56,272.46 239.08,272.46 239.61,272.46 240.14,272.46 240.67,272.46 241.2,272.46 241.72,272.46 242.25,272.46 242.78,272.46 243.31,272.46 243.84,272.46 244.36,272.46 244.89,272.46 245.42,272.46 245.95,272.46 246.48,272.46 247,272.46 247.53,272.46 248.06,272.46 248.32,272.46 248.54,268.28 248.57,268.29 248.59,268.3 248.61,268.3 248.69,268.32 248.81,268.35 248.93,268.37 249.12,268.41 249.13,268.41 249.33,268.45 249.64,268.5 250.12,268.56 250.17,268.57 250.7,268.63 250.75,268.63 251.23,268.67 251.7,268.7 251.76,268.7 252.28,268.73 252.81,268.75 252.89,268.75 253.34,268.76 253.87,268.77 254.4,268.78 254.92,268.79 255.45,268.8 255.98,268.8 256.51,268.81 257.04,268.81 257.56,268.81 258.09,268.81 258.62,268.81 259.15,268.81 259.68,268.81 260.2,268.82 260.73,268.82 261.26,268.82 261.79,268.82 262.32,268.82 262.84,268.82 263.37,268.82 263.9,268.82 264.43,268.82 264.96,268.82 265.48,268.82 266.01,268.82 266.54,268.82 266.54,268.82 266.75,260.63 266.79,260.65 266.83,260.67 266.91,260.71 267.03,260.76 267.07,260.78 267.15,260.82 267.35,260.9 267.54,260.97 267.6,260.99 267.86,261.08 268.12,261.15 268.34,261.21 268.65,261.28 268.97,261.34 269.18,261.38 269.71,261.46 269.92,261.48 270.24,261.52 270.76,261.57 271.11,261.59 271.29,261.6 271.82,261.63 272.35,261.65 272.88,261.67 273.4,261.68 273.93,261.69 274.46,261.7 274.99,261.71 275.52,261.71 276.04,261.72 276.57,261.72 277.1,261.72 277.63,261.72 278.16,261.73 278.68,261.73 279.21,261.73 279.74,261.73 280.27,261.73 280.8,261.73 281.32,261.73 281.85,261.73 282.38,261.73 282.91,261.73 283.44,261.73 283.96,261.73 284.49,261.73 284.91,261.73 285.02,255.06 285.13,248.38 285.17,248.42 285.2,248.46 285.28,248.53 285.4,248.63 285.52,248.72 285.55,248.75 285.72,248.87 285.92,249.01 286.08,249.11 286.23,249.2 286.6,249.39 286.71,249.44 287.13,249.61 287.34,249.69 287.66,249.78 288.19,249.92 288.29,249.94 288.72,250.02 289.24,250.1 289.48,250.13 289.77,250.17 290.3,250.22 290.83,250.25 291.36,250.28 291.88,250.31 292.41,250.33 292.94,250.34 293.47,250.35 294,250.36 294.52,250.37 295.05,250.37 295.58,250.38 296.11,250.38 296.64,250.38 297.16,250.38 297.69,250.38 298.22,250.39 298.75,250.39 299.28,250.39 299.8,250.39 300.33,250.39 300.86,250.39 301.39,250.39 301.92,250.39 302.44,250.39 302.6,250.39 302.81,230.55 302.85,230.58 302.89,230.6 302.97,230.66 303.09,230.74 303.21,230.83 303.41,231.03 303.5,231.15 303.61,231.31 303.92,231.9 304.03,232.12 304.4,232.82 304.56,233.04 305.03,233.23 305.08,233.21 305.61,232.83 305.98,232.73 306.14,232.79 306.67,233.36 307.17,233.82 307.2,233.83 307.72,233.54 308.25,232.87 308.78,232.68 309.31,233.06 309.84,233.21 310.36,232.63 310.89,231.84 311.42,231.67 311.95,232.02 312.48,232.04 313,231.39 313.53,230.73 314.06,230.77 314.59,231.19 315.12,231.07 315.64,230.24 316.17,229.6 316.7,229.96 317.23,230.89 317.76,231.41 318.28,231.3 318.81,231.36 319.34,232.05" fill="none" stroke="#b070e8" stroke-width="1.0" stroke-linejoin="round" />
<text transform="translate(220.5,273.4) scale(0.93,1)" font-size="7.45" text-anchor="middle" fill="#2a2a2a" stroke="#2a2a2a" stroke-width="0.18" >5%</text>
<text transform="translate(240.2,270.7) scale(0.93,1)" font-size="7.45" text-anchor="middle" fill="#2a2a2a" stroke="#2a2a2a" stroke-width="0.18" >10%</text>
<text transform="translate(258,267.5) scale(0.93,1)" font-size="7.45" text-anchor="middle" fill="#2a2a2a" stroke="#2a2a2a" stroke-width="0.18" >15%</text>
<text transform="translate(277.3,260) scale(0.93,1)" font-size="7.45" text-anchor="middle" fill="#2a2a2a" stroke="#2a2a2a" stroke-width="0.18" >20%</text>
<text transform="translate(295,247.2) scale(0.93,1)" font-size="7.45" text-anchor="middle" fill="#2a2a2a" stroke="#2a2a2a" stroke-width="0.18" >25%</text>
<text transform="translate(311.5,230.2) scale(0.93,1)" font-size="7.45" text-anchor="middle" fill="#2a2a2a" stroke="#2a2a2a" stroke-width="0.18" >30%</text>
<text transform="translate(331,239.2) scale(0.93,1)" font-size="7.45" text-anchor="middle" fill="#2a2a2a" stroke="#2a2a2a" stroke-width="0.18" >35%</text>
<text transform="translate(355.3,212.2) scale(0.93,1)" font-size="7.45" text-anchor="middle" fill="#2a2a2a" stroke="#2a2a2a" stroke-width="0.18" >40%</text>
<ellipse cx="320.3" cy="232.3" rx="5.3" ry="7.2" fill="none" stroke="#f0c428" stroke-width="1.1" stroke-dasharray="2.2,1.3"/>
<line x1="316" y1="228" x2="296" y2="215" stroke="#f0c428" stroke-width="1.1" stroke-dasharray="2,1.3"/>
<polygon points="293.4,213.4 298.4,214.3 296.0,217.8" fill="#f0c428"/>
<text transform="translate(319,219.3) scale(0.93,1)" font-size="6.37" text-anchor="middle" fill="#f0c428" stroke="#f0c428" stroke-width="0.14" >break point</text>
<rect x="231.3" y="156.7" width="53.3" height="46.5" fill="#fff" stroke="#a8a8a8" stroke-width="0.7"/>
<line x1="231.3" y1="199.3" x2="230.3" y2="199.3" stroke="#888" stroke-width="0.5" />
<text x="230.0" y="200.8" font-size="4.3" text-anchor="end" fill="#555" stroke="#555" stroke-width="0.1">0.0</text>
<line x1="231.3" y1="192.83" x2="230.3" y2="192.83" stroke="#888" stroke-width="0.5" />
<text x="230.0" y="194.33" font-size="4.3" text-anchor="end" fill="#555" stroke="#555" stroke-width="0.1">2.0×10<tspan font-size="2.9" dy="-1.7">4</tspan></text>
<line x1="231.3" y1="186.37" x2="230.3" y2="186.37" stroke="#888" stroke-width="0.5" />
<text x="230.0" y="187.87" font-size="4.3" text-anchor="end" fill="#555" stroke="#555" stroke-width="0.1">4.0×10<tspan font-size="2.9" dy="-1.7">4</tspan></text>
<line x1="231.3" y1="179.9" x2="230.3" y2="179.9" stroke="#888" stroke-width="0.5" />
<text x="230.0" y="181.4" font-size="4.3" text-anchor="end" fill="#555" stroke="#555" stroke-width="0.1">6.0×10<tspan font-size="2.9" dy="-1.7">4</tspan></text>
<line x1="231.3" y1="173.43" x2="230.3" y2="173.43" stroke="#888" stroke-width="0.5" />
<text x="230.0" y="174.93" font-size="4.3" text-anchor="end" fill="#555" stroke="#555" stroke-width="0.1">8.0×10<tspan font-size="2.9" dy="-1.7">4</tspan></text>
<line x1="231.3" y1="166.97" x2="230.3" y2="166.97" stroke="#888" stroke-width="0.5" />
<text x="230.0" y="168.47" font-size="4.3" text-anchor="end" fill="#555" stroke="#555" stroke-width="0.1">1.0×10<tspan font-size="2.9" dy="-1.7">5</tspan></text>
<line x1="231.3" y1="160.5" x2="230.3" y2="160.5" stroke="#888" stroke-width="0.5" />
<text x="230.0" y="162" font-size="4.3" text-anchor="end" fill="#555" stroke="#555" stroke-width="0.1">1.2×10<tspan font-size="2.9" dy="-1.7">5</tspan></text>
<line x1="231.3" y1="203.2" x2="231.3" y2="204.2" stroke="#888" stroke-width="0.5" />
<text x="231.3" y="208.6" font-size="4.4" text-anchor="middle" fill="#555" stroke="#555" stroke-width="0.1">100</text>
<line x1="241.72" y1="203.2" x2="241.72" y2="204.2" stroke="#888" stroke-width="0.5" />
<text x="241.72" y="208.6" font-size="4.4" text-anchor="middle" fill="#555" stroke="#555" stroke-width="0.1">125</text>
<line x1="252.14" y1="203.2" x2="252.14" y2="204.2" stroke="#888" stroke-width="0.5" />
<text x="252.14" y="208.6" font-size="4.4" text-anchor="middle" fill="#555" stroke="#555" stroke-width="0.1">150</text>
<line x1="262.56" y1="203.2" x2="262.56" y2="204.2" stroke="#888" stroke-width="0.5" />
<text x="262.56" y="208.6" font-size="4.4" text-anchor="middle" fill="#555" stroke="#555" stroke-width="0.1">175</text>
<line x1="272.98" y1="203.2" x2="272.98" y2="204.2" stroke="#888" stroke-width="0.5" />
<text x="272.98" y="208.6" font-size="4.4" text-anchor="middle" fill="#555" stroke="#555" stroke-width="0.1">200</text>
<line x1="283.4" y1="203.2" x2="283.4" y2="204.2" stroke="#888" stroke-width="0.5" />
<text x="283.4" y="208.6" font-size="4.4" text-anchor="middle" fill="#555" stroke="#555" stroke-width="0.1">225</text>
<text transform="translate(259.6,214.5) scale(0.93,1)" font-size="5.62" text-anchor="middle" fill="#444" stroke="#444" stroke-width="0.12" >time (s)</text>
<text transform="translate(215.8,180.8) rotate(-90)" font-size="4.6" text-anchor="middle" fill="#555" stroke="#555" stroke-width="0.1">ΔR/R<tspan font-size="3.2" dy="1.1">0</tspan></text>
<polyline points="231.3,199.3 279.32,199.3 279.32,163.73 283.61,163.73" fill="none" stroke="#b888ee" stroke-width="1.1" stroke-linejoin="round" />
<line x1="234.5" y1="160.6" x2="244.1" y2="160.6" stroke="#b888ee" stroke-width="1.0" />
<text transform="translate(246.2,162.7) scale(0.93,1)" font-size="5.62" text-anchor="start" fill="#444" stroke="#444" stroke-width="0.05" >3:1</text>
<text transform="translate(270,183.3) scale(0.93,1)" font-size="6.91" text-anchor="middle" fill="#444" stroke="#444" stroke-width="0.04" >&gt;30%</text>
<text transform="translate(291,162.3) scale(0.93,1)" font-size="6.32" text-anchor="start" fill="#2a2a2a" stroke="#2a2a2a" stroke-width="0.14" >Ratios of MXene to MWCNTs</text>
<line x1="291" y1="167" x2="304" y2="167" stroke="#b070e8" stroke-width="0.9" />
<text transform="translate(307,169.4) scale(0.93,1)" font-size="6.59" text-anchor="start" fill="#2a2a2a" stroke="#2a2a2a" stroke-width="0.15" >3:1</text>
<line x1="291" y1="174.2" x2="304" y2="174.2" stroke="#3cb07a" stroke-width="0.9" />
<text transform="translate(307,176.6) scale(0.93,1)" font-size="6.59" text-anchor="start" fill="#2a2a2a" stroke="#2a2a2a" stroke-width="0.15" >2:1</text>
<line x1="291" y1="181.3" x2="304" y2="181.3" stroke="#3a70e0" stroke-width="0.9" />
<text transform="translate(307,183.7) scale(0.93,1)" font-size="6.59" text-anchor="start" fill="#2a2a2a" stroke="#2a2a2a" stroke-width="0.15" >1:1</text>
<line x1="291" y1="188.4" x2="304" y2="188.4" stroke="#f04a50" stroke-width="0.9" />
<text transform="translate(307,190.8) scale(0.93,1)" font-size="6.59" text-anchor="start" fill="#2a2a2a" stroke="#2a2a2a" stroke-width="0.15" >1:2</text>
<line x1="291" y1="195.4" x2="304" y2="195.4" stroke="#444444" stroke-width="0.9" />
<text transform="translate(306,197.8) scale(0.93,1)" font-size="6.32" text-anchor="start" fill="#2a2a2a" stroke="#2a2a2a" stroke-width="0.14" >Without MXene</text>
<rect x="392.6" y="154.3" width="151.8" height="122.7" fill="none" stroke="#808080" stroke-width="1.35"/>
<line x1="407.2" y1="277" x2="407.2" y2="279.6" stroke="#808080" stroke-width="1" />
<line x1="437.6" y1="277" x2="437.6" y2="279.6" stroke="#808080" stroke-width="1" />
<line x1="468" y1="277" x2="468" y2="279.6" stroke="#808080" stroke-width="1" />
<line x1="498.4" y1="277" x2="498.4" y2="279.6" stroke="#808080" stroke-width="1" />
<line x1="528.8" y1="277" x2="528.8" y2="279.6" stroke="#808080" stroke-width="1" />
<line x1="422.4" y1="277" x2="422.4" y2="278.5" stroke="#808080" stroke-width="0.9" />
<line x1="452.8" y1="277" x2="452.8" y2="278.5" stroke="#808080" stroke-width="0.9" />
<line x1="483.2" y1="277" x2="483.2" y2="278.5" stroke="#808080" stroke-width="0.9" />
<line x1="513.6" y1="277" x2="513.6" y2="278.5" stroke="#808080" stroke-width="0.9" />
<line x1="392.6" y1="272" x2="390" y2="272" stroke="#808080" stroke-width="1" />
<line x1="392.6" y1="253.22" x2="390" y2="253.22" stroke="#808080" stroke-width="1" />
<line x1="392.6" y1="234.44" x2="390" y2="234.44" stroke="#808080" stroke-width="1" />
<line x1="392.6" y1="215.66" x2="390" y2="215.66" stroke="#808080" stroke-width="1" />
<line x1="392.6" y1="196.88" x2="390" y2="196.88" stroke="#808080" stroke-width="1" />
<line x1="392.6" y1="178.1" x2="390" y2="178.1" stroke="#808080" stroke-width="1" />
<line x1="392.6" y1="159.32" x2="390" y2="159.32" stroke="#808080" stroke-width="1" />
<line x1="392.6" y1="262.61" x2="391.1" y2="262.61" stroke="#808080" stroke-width="0.9" />
<line x1="392.6" y1="243.83" x2="391.1" y2="243.83" stroke="#808080" stroke-width="0.9" />
<line x1="392.6" y1="225.05" x2="391.1" y2="225.05" stroke="#808080" stroke-width="0.9" />
<line x1="392.6" y1="206.27" x2="391.1" y2="206.27" stroke="#808080" stroke-width="0.9" />
<line x1="392.6" y1="187.49" x2="391.1" y2="187.49" stroke="#808080" stroke-width="0.9" />
<line x1="392.6" y1="168.71" x2="391.1" y2="168.71" stroke="#808080" stroke-width="0.9" />
<text transform="translate(407.2,285.1) scale(0.93,1)" font-size="7.24" text-anchor="middle" fill="#2a2a2a" stroke="#2a2a2a" stroke-width="0.14" >0</text>
<text transform="translate(437.6,285.1) scale(0.93,1)" font-size="7.24" text-anchor="middle" fill="#2a2a2a" stroke="#2a2a2a" stroke-width="0.14" >10</text>
<text transform="translate(468,285.1) scale(0.93,1)" font-size="7.24" text-anchor="middle" fill="#2a2a2a" stroke="#2a2a2a" stroke-width="0.14" >20</text>
<text transform="translate(498.4,285.1) scale(0.93,1)" font-size="7.24" text-anchor="middle" fill="#2a2a2a" stroke="#2a2a2a" stroke-width="0.14" >30</text>
<text transform="translate(528.8,285.1) scale(0.93,1)" font-size="7.24" text-anchor="middle" fill="#2a2a2a" stroke="#2a2a2a" stroke-width="0.14" >40</text>
<text transform="translate(388.7,274.9) scale(0.93,1)" font-size="7.24" text-anchor="end" fill="#2a2a2a" stroke="#2a2a2a" stroke-width="0.14" >0</text>
<text transform="translate(388.7,256.12) scale(0.93,1)" font-size="7.24" text-anchor="end" fill="#2a2a2a" stroke="#2a2a2a" stroke-width="0.14" >40</text>
<text transform="translate(388.7,237.34) scale(0.93,1)" font-size="7.24" text-anchor="end" fill="#2a2a2a" stroke="#2a2a2a" stroke-width="0.14" >80</text>
<text transform="translate(388.7,218.56) scale(0.93,1)" font-size="7.24" text-anchor="end" fill="#2a2a2a" stroke="#2a2a2a" stroke-width="0.14" >120</text>
<text transform="translate(388.7,199.78) scale(0.93,1)" font-size="7.24" text-anchor="end" fill="#2a2a2a" stroke="#2a2a2a" stroke-width="0.14" >160</text>
<text transform="translate(388.7,181) scale(0.93,1)" font-size="7.24" text-anchor="end" fill="#2a2a2a" stroke="#2a2a2a" stroke-width="0.14" >200</text>
<text transform="translate(388.7,162.22) scale(0.93,1)" font-size="7.24" text-anchor="end" fill="#2a2a2a" stroke="#2a2a2a" stroke-width="0.14" >240</text>
<text transform="translate(376.6,216.7) rotate(-90)" font-size="8.2" text-anchor="middle" fill="#2a2a2a">ΔR/R<tspan font-size="5.74" dy="1.8">0</tspan></text>
<text transform="translate(469.8,292.7) scale(0.93,1)" font-size="8.42" text-anchor="middle" fill="#2a2a2a" stroke="#2a2a2a" stroke-width="0.38" >strain (%)</text>
<text x="366.7" y="158.1" font-size="10.4" text-anchor="start" fill="#111" font-weight="bold" >(f)</text>
<polyline points="407.2,272 422.4,271.77 437.6,271.53 452.8,271.06 468,270.5 483.2,269.89 498.4,269 513.6,267.49 528.8,265.71" fill="none" stroke="#333333" stroke-width="0.9" stroke-linejoin="round" />
<rect x="405.45" y="270.25" width="3.5" height="3.5" fill="#333333"/>
<rect x="420.65" y="270.02" width="3.5" height="3.5" fill="#333333"/>
<rect x="435.85" y="269.78" width="3.5" height="3.5" fill="#333333"/>
<rect x="451.05" y="269.31" width="3.5" height="3.5" fill="#333333"/>
<rect x="466.25" y="268.75" width="3.5" height="3.5" fill="#333333"/>
<rect x="481.45" y="268.14" width="3.5" height="3.5" fill="#333333"/>
<rect x="496.65" y="267.25" width="3.5" height="3.5" fill="#333333"/>
<rect x="511.85" y="265.74" width="3.5" height="3.5" fill="#333333"/>
<rect x="527.05" y="263.96" width="3.5" height="3.5" fill="#333333"/>
<polyline points="407.2,272 422.4,271.53 437.6,270.59 452.8,269.89 468,267.77 483.2,265 498.4,262 513.6,256.04 528.8,247.02" fill="none" stroke="#f03a3a" stroke-width="0.9" stroke-linejoin="round" />
<circle cx="407.2" cy="272" r="1.75" fill="#f03a3a"/>
<circle cx="422.4" cy="271.53" r="1.75" fill="#f03a3a"/>
<circle cx="437.6" cy="270.59" r="1.75" fill="#f03a3a"/>
<circle cx="452.8" cy="269.89" r="1.75" fill="#f03a3a"/>
<circle cx="468" cy="267.77" r="1.75" fill="#f03a3a"/>
<circle cx="483.2" cy="265" r="1.75" fill="#f03a3a"/>
<circle cx="498.4" cy="262" r="1.75" fill="#f03a3a"/>
<circle cx="513.6" cy="256.04" r="1.75" fill="#f03a3a"/>
<circle cx="528.8" cy="247.02" r="1.75" fill="#f03a3a"/>
<polyline points="407.2,272 422.4,271.44 437.6,270.12 452.8,268.24 468,263.78 483.2,258.48 498.4,252.19 513.6,241.72 528.8,222.98" fill="none" stroke="#2f68e8" stroke-width="0.9" stroke-linejoin="round" />
<polygon points="407.2,269.81 409.39,273.64 405.01,273.64" fill="#2f68e8"/>
<polygon points="422.4,269.25 424.59,273.08 420.21,273.08" fill="#2f68e8"/>
<polygon points="437.6,267.93 439.79,271.76 435.41,271.76" fill="#2f68e8"/>
<polygon points="452.8,266.06 454.99,269.88 450.61,269.88" fill="#2f68e8"/>
<polygon points="468,261.6 470.19,265.42 465.81,265.42" fill="#2f68e8"/>
<polygon points="483.2,256.29 485.39,260.12 481.01,260.12" fill="#2f68e8"/>
<polygon points="498.4,250 500.59,253.83 496.21,253.83" fill="#2f68e8"/>
<polygon points="513.6,239.53 515.79,243.36 511.41,243.36" fill="#2f68e8"/>
<polygon points="528.8,220.8 530.99,224.62 526.61,224.62" fill="#2f68e8"/>
<polyline points="407.2,272 422.4,271.3 437.6,269.51 452.8,266.88 468,263.31 483.2,258.48 498.4,249.98 513.6,232 528.8,199.88" fill="none" stroke="#2faa62" stroke-width="0.9" stroke-linejoin="round" />
<polygon points="407.2,274.19 409.39,270.36 405.01,270.36" fill="#2faa62"/>
<polygon points="422.4,273.48 424.59,269.66 420.21,269.66" fill="#2faa62"/>
<polygon points="437.6,271.7 439.79,267.87 435.41,267.87" fill="#2faa62"/>
<polygon points="452.8,269.07 454.99,265.24 450.61,265.24" fill="#2faa62"/>
<polygon points="468,265.5 470.19,261.67 465.81,261.67" fill="#2faa62"/>
<polygon points="483.2,260.67 485.39,256.84 481.01,256.84" fill="#2faa62"/>
<polygon points="498.4,252.17 500.59,248.34 496.21,248.34" fill="#2faa62"/>
<polygon points="513.6,234.19 515.79,230.36 511.41,230.36" fill="#2faa62"/>
<polygon points="528.8,202.07 530.99,198.24 526.61,198.24" fill="#2faa62"/>
<polyline points="407.2,272 422.4,271.06 437.6,268.38 452.8,264.02 468,255.57 483.2,243.5 498.4,221.48" fill="none" stroke="#a868f0" stroke-width="0.9" stroke-linejoin="round" />
<polygon points="407.2,269.79 409.41,272 407.2,274.21 404.99,272" fill="#a868f0"/>
<polygon points="422.4,268.85 424.61,271.06 422.4,273.27 420.19,271.06" fill="#a868f0"/>
<polygon points="437.6,266.17 439.81,268.38 437.6,270.59 435.39,268.38" fill="#a868f0"/>
<polygon points="452.8,261.81 455.01,264.02 452.8,266.23 450.59,264.02" fill="#a868f0"/>
<polygon points="468,253.36 470.21,255.57 468,257.78 465.79,255.57" fill="#a868f0"/>
<polygon points="483.2,241.29 485.41,243.5 483.2,245.71 480.99,243.5" fill="#a868f0"/>
<polygon points="498.4,219.27 500.61,221.48 498.4,223.69 496.19,221.48" fill="#a868f0"/>
<rect x="404.8" y="154.3" width="64.3" height="55.8" fill="#fff" stroke="#a0a0a0" stroke-width="0.7"/>
<line x1="404.8" y1="204" x2="403.8" y2="204" stroke="#888" stroke-width="0.5" />
<text transform="translate(403.4,205.8) scale(0.93,1)" font-size="4.75" text-anchor="end" fill="#3a3a3a" stroke="#3a3a3a" stroke-width="0.1" >0</text>
<line x1="404.8" y1="192.55" x2="403.8" y2="192.55" stroke="#888" stroke-width="0.5" />
<text transform="translate(403.4,194.35) scale(0.93,1)" font-size="4.75" text-anchor="end" fill="#3a3a3a" stroke="#3a3a3a" stroke-width="0.1" >40</text>
<line x1="404.8" y1="181.1" x2="403.8" y2="181.1" stroke="#888" stroke-width="0.5" />
<text transform="translate(403.4,182.9) scale(0.93,1)" font-size="4.75" text-anchor="end" fill="#3a3a3a" stroke="#3a3a3a" stroke-width="0.1" >80</text>
<line x1="404.8" y1="169.65" x2="403.8" y2="169.65" stroke="#888" stroke-width="0.5" />
<text transform="translate(403.4,171.45) scale(0.93,1)" font-size="4.75" text-anchor="end" fill="#3a3a3a" stroke="#3a3a3a" stroke-width="0.1" >120</text>
<line x1="404.8" y1="158.2" x2="403.8" y2="158.2" stroke="#888" stroke-width="0.5" />
<text transform="translate(403.4,160) scale(0.93,1)" font-size="4.75" text-anchor="end" fill="#3a3a3a" stroke="#3a3a3a" stroke-width="0.1" >160</text>
<line x1="410.6" y1="210.1" x2="410.6" y2="211.1" stroke="#888" stroke-width="0.5" />
<text transform="translate(410.6,214.6) scale(0.93,1)" font-size="4.75" text-anchor="middle" fill="#3a3a3a" stroke="#3a3a3a" stroke-width="0.1" >0</text>
<line x1="423.7" y1="210.1" x2="423.7" y2="211.1" stroke="#888" stroke-width="0.5" />
<text transform="translate(423.7,214.6) scale(0.93,1)" font-size="4.75" text-anchor="middle" fill="#3a3a3a" stroke="#3a3a3a" stroke-width="0.1" >10</text>
<line x1="436.8" y1="210.1" x2="436.8" y2="211.1" stroke="#888" stroke-width="0.5" />
<text transform="translate(436.8,214.6) scale(0.93,1)" font-size="4.75" text-anchor="middle" fill="#3a3a3a" stroke="#3a3a3a" stroke-width="0.1" >20</text>
<line x1="449.9" y1="210.1" x2="449.9" y2="211.1" stroke="#888" stroke-width="0.5" />
<text transform="translate(449.9,214.6) scale(0.93,1)" font-size="4.75" text-anchor="middle" fill="#3a3a3a" stroke="#3a3a3a" stroke-width="0.1" >30</text>
<line x1="463" y1="210.1" x2="463" y2="211.1" stroke="#888" stroke-width="0.5" />
<text transform="translate(463,214.6) scale(0.93,1)" font-size="4.75" text-anchor="middle" fill="#3a3a3a" stroke="#3a3a3a" stroke-width="0.1" >40</text>
<text transform="translate(437.8,220.3) scale(0.93,1)" font-size="5.08" text-anchor="middle" fill="#3a3a3a" stroke="#3a3a3a" stroke-width="0.12" >strain (%)</text>
<text transform="translate(396.6,182.5) rotate(-90)" font-size="4.8" text-anchor="middle" fill="#3a3a3a" stroke="#3a3a3a" stroke-width="0.12">ΔR/R<tspan font-size="3.1" dy="1">0</tspan></text>
<line x1="410.6" y1="205.15" x2="436.8" y2="198.56" stroke="#f04050" stroke-width="0.9" />
<line x1="436.8" y1="206.86" x2="463" y2="166.21" stroke="#f04050" stroke-width="0.9" />
<rect x="409.4" y="202.4" width="2.4" height="2.4" fill="#22a022"/>
<rect x="415.95" y="201.94" width="2.4" height="2.4" fill="#22a022"/>
<rect x="422.5" y="201.2" width="2.4" height="2.4" fill="#22a022"/>
<rect x="429.05" y="200.11" width="2.4" height="2.4" fill="#22a022"/>
<rect x="435.6" y="197.79" width="2.4" height="2.4" fill="#22a022"/>
<rect x="442.15" y="194.3" width="2.4" height="2.4" fill="#22a022"/>
<rect x="448.7" y="189.63" width="2.4" height="2.4" fill="#22a022"/>
<rect x="455.25" y="178.58" width="2.4" height="2.4" fill="#22a022"/>
<rect x="461.8" y="159.29" width="2.4" height="2.4" fill="#22a022"/>
<text transform="translate(414,192.9) scale(0.93,1)" font-size="5.18" text-anchor="start" fill="#3a3a3a" stroke="#3a3a3a" stroke-width="0.12" >GF=90.3</text>
<text x="414" y="198.3" font-size="4.8" fill="#3a3a3a" stroke="#3a3a3a" stroke-width="0.12">R<tspan font-size="3.1" dy="-1.7">2</tspan><tspan dy="1.7">=0.94</tspan></text>
<text transform="translate(436.3,176.1) scale(0.93,1)" font-size="5.18" text-anchor="start" fill="#3a3a3a" stroke="#3a3a3a" stroke-width="0.12" >GF=646</text>
<text x="436.3" y="181.5" font-size="4.8" fill="#3a3a3a" stroke="#3a3a3a" stroke-width="0.12">R<tspan font-size="3.1" dy="-1.7">2</tspan><tspan dy="1.7">=0.89</tspan></text>
<text transform="translate(472,161.3) scale(0.93,1)" font-size="6.32" text-anchor="start" fill="#2a2a2a" stroke="#2a2a2a" stroke-width="0.14" >Ratios of MXene to MWCNTs</text>
<line x1="472" y1="165.8" x2="484" y2="165.8" stroke="#a868f0" stroke-width="0.9" />
<polygon points="478,163.79 480.01,165.8 478,167.81 475.99,165.8" fill="#a868f0"/>
<text transform="translate(487.5,168.2) scale(0.93,1)" font-size="6.59" text-anchor="start" fill="#2a2a2a" stroke="#2a2a2a" stroke-width="0.15" >3:1</text>
<line x1="472" y1="173" x2="484" y2="173" stroke="#2faa62" stroke-width="0.9" />
<polygon points="478,174.94 479.94,171.55 476.06,171.55" fill="#2faa62"/>
<text transform="translate(487.5,175.4) scale(0.93,1)" font-size="6.59" text-anchor="start" fill="#2a2a2a" stroke="#2a2a2a" stroke-width="0.15" >2:1</text>
<line x1="472" y1="180.1" x2="484" y2="180.1" stroke="#2f68e8" stroke-width="0.9" />
<polygon points="478,178.16 479.94,181.55 476.06,181.55" fill="#2f68e8"/>
<text transform="translate(487.5,182.5) scale(0.93,1)" font-size="6.59" text-anchor="start" fill="#2a2a2a" stroke="#2a2a2a" stroke-width="0.15" >1:1</text>
<line x1="472" y1="187.1" x2="484" y2="187.1" stroke="#f03a3a" stroke-width="0.9" />
<circle cx="478" cy="187.1" r="1.55" fill="#f03a3a"/>
<text transform="translate(487.5,189.5) scale(0.93,1)" font-size="6.59" text-anchor="start" fill="#2a2a2a" stroke="#2a2a2a" stroke-width="0.15" >1:2</text>
<line x1="472" y1="194.1" x2="484" y2="194.1" stroke="#333333" stroke-width="0.9" />
<circle cx="478" cy="194.1" r="1.3" fill="#333333"/>
<text transform="translate(486,196.5) scale(0.93,1)" font-size="6.32" text-anchor="start" fill="#2a2a2a" stroke="#2a2a2a" stroke-width="0.14" >Without MXene</text>
</svg></body></html>
